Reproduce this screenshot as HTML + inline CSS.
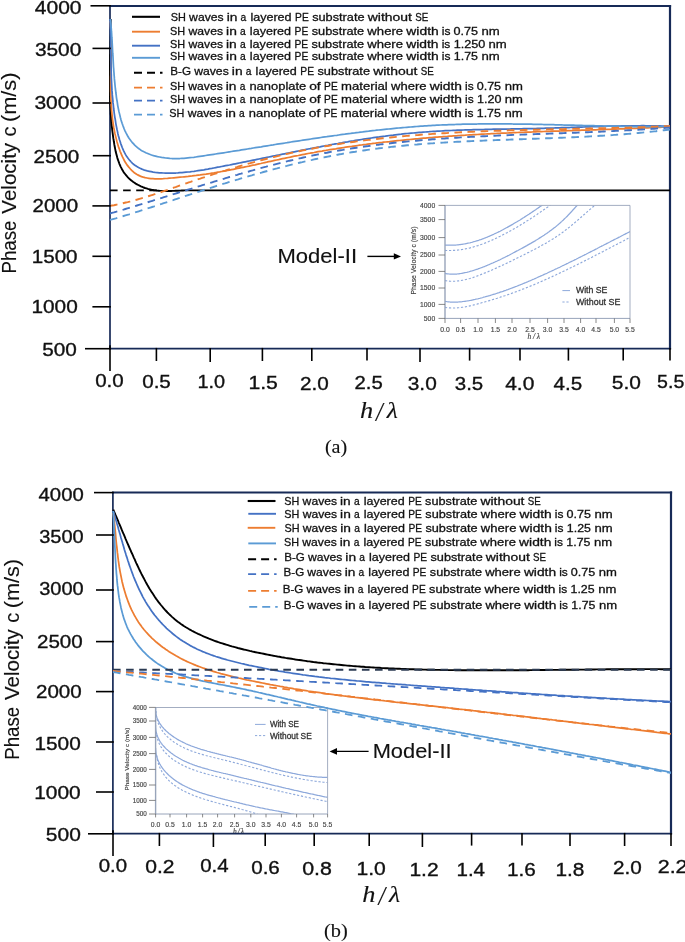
<!DOCTYPE html>
<html><head><meta charset="utf-8"><title>Phase velocity figure</title>
<style>html,body{margin:0;padding:0;background:#fff;}svg{display:block;}</style></head>
<body><svg width="685" height="942" viewBox="0 0 685 942">
<rect width="685" height="942" fill="#fff"/>
<line x1="110" y1="5.1" x2="110" y2="349.59999999999997" stroke="#172a57" stroke-width="1.7" />
<line x1="109.1" y1="6" x2="671.1" y2="6" stroke="#172a57" stroke-width="2.0" />
<line x1="670" y1="5" x2="670" y2="349.59999999999997" stroke="#172a57" stroke-width="2.2" />
<line x1="110" y1="348.7" x2="671.1" y2="348.7" stroke="#172a57" stroke-width="1.8" />
<clipPath id="ca"><rect x="109" y="6" width="561" height="342.7"/></clipPath>
<g clip-path="url(#ca)">
<path d="M110.7 19.0 L110.7 20.5 L110.7 22.1 L110.7 23.6 L110.7 25.2 L110.7 26.7 L110.7 28.2 L110.6 29.8 L110.6 31.3 L110.6 32.8 L110.6 34.4 L110.6 35.9 L110.5 37.4 L110.5 38.9 L110.5 40.4 L110.4 42.0 L110.4 43.5 L110.4 45.0 L110.3 46.5 L110.3 48.0 L110.3 49.5 L110.2 51.0 L110.2 52.5 L110.2 54.0 L110.1 55.5 L110.1 57.0 L110.1 58.5 L110.1 60.0 L110.0 61.5 L110.0 63.0 L110.0 64.5 L109.9 66.0 L109.9 67.5 L109.9 69.0 L109.9 70.5 L109.9 72.0 L109.8 73.5 L109.8 75.0 L109.8 76.4 L109.8 77.9 L109.8 79.4 L109.8 80.9 L109.8 82.4 L109.8 83.9 L109.8 85.4 L109.8 86.9 L109.8 88.4 L109.8 89.9 L109.9 91.4 L109.9 92.8 L109.9 94.3 L109.9 95.8 L110.0 97.3 L110.0 98.8 L110.1 100.3 L110.1 101.8 L110.2 103.3 L110.2 104.8 L110.3 106.3 L110.4 107.8 L110.5 109.3 L110.6 110.8 L110.7 112.3 L110.7 113.8 L110.9 115.4 L111.0 116.9 L111.1 118.4 L111.2 119.9 L111.3 121.4 L111.5 122.9 L111.6 124.5 L111.8 126.0 L112.0 127.5 L112.1 129.0 L112.3 130.6 L112.5 132.1 L112.7 133.6 L112.9 135.2 L113.1 136.7 L113.3 138.2 L113.6 139.8 L113.8 141.3 L114.1 142.9 L114.3 144.4 L114.6 146.0 L114.9 147.5 L115.2 149.1 L115.5 150.6 L115.8 152.1 L116.2 153.6 L116.6 155.1 L117.0 156.6 L117.4 158.1 L117.9 159.6 L118.4 161.0 L118.9 162.4 L119.4 163.8 L120.0 165.2 L120.6 166.6 L121.3 167.9 L122.0 169.2 L122.7 170.4 L123.4 171.7 L124.2 172.9 L125.1 174.0 L126.0 175.1 L126.9 176.2 L127.9 177.3 L128.9 178.3 L129.9 179.3 L131.0 180.2 L132.1 181.1 L133.3 182.0 L134.5 182.8 L135.7 183.6 L137.0 184.3 L138.3 185.0 L139.6 185.7 L140.9 186.3 L142.3 186.9 L143.6 187.5 L145.0 188.0 L146.5 188.4 L147.9 188.9 L149.4 189.3 L150.9 189.6 L152.4 189.9 L153.9 190.2 L155.4 190.4 L156.9 190.6 L158.5 190.7 L160.0 190.9 L161.6 190.9 L163.2 191.0 L164.7 191.0 L166.3 191.0 L167.9 191.0 L169.4 191.0 L171.0 191.0 L172.6 190.9 L174.1 190.9 L175.6 190.8 L177.2 190.7 L178.7 190.7 L180.2 190.6 L181.7 190.5 L183.1 190.5 L184.6 190.4 L186.0 190.4 L670 190.4" fill="none" stroke="#000" stroke-width="1.9" stroke-linejoin="round" />
<path d="M110.2 21.0 L110.4 23.0 L110.5 25.0 L110.6 27.0 L110.8 29.0 L110.9 31.0 L110.9 32.9 L111.0 34.9 L111.1 36.9 L111.1 38.9 L111.1 40.9 L111.2 42.9 L111.2 44.9 L111.2 46.9 L111.2 48.9 L111.2 50.9 L111.1 53.0 L111.1 55.0 L111.1 57.0 L111.1 59.0 L111.0 61.0 L111.0 63.0 L111.0 65.0 L110.9 67.0 L110.9 69.0 L110.8 71.0 L110.8 73.0 L110.8 75.1 L110.7 77.1 L110.7 79.1 L110.7 81.1 L110.7 83.1 L110.7 85.1 L110.7 87.1 L110.7 89.1 L110.7 91.2 L110.8 93.2 L110.8 95.2 L110.9 97.2 L110.9 99.2 L111.0 101.2 L111.1 103.2 L111.2 105.3 L111.4 107.3 L111.5 109.3 L111.7 111.3 L111.9 113.3 L112.1 115.3 L112.3 117.3 L112.5 119.3 L112.8 121.3 L113.1 123.3 L113.4 125.4 L113.7 127.4 L114.1 129.4 L114.5 131.4 L114.9 133.4 L115.4 135.4 L115.9 137.4 L116.4 139.4 L116.9 141.4 L117.5 143.4 L118.1 145.4 L118.7 147.4 L119.4 149.3 L120.1 151.3 L120.9 153.2 L121.7 155.1 L122.5 156.9 L123.4 158.7 L124.3 160.5 L125.3 162.2 L126.3 163.8 L127.4 165.4 L128.6 166.9 L129.8 168.3 L131.0 169.7 L132.3 171.0 L133.7 172.2 L135.1 173.3 L136.6 174.3 L138.2 175.1 L139.8 175.9 L141.5 176.6 L143.3 177.2 L145.1 177.7 L147.0 178.0 L148.9 178.3 L150.9 178.6 L152.9 178.7 L154.9 178.8 L157.0 178.8 L159.1 178.8 L161.2 178.8 L163.3 178.7 L165.4 178.5 L167.5 178.4 L169.6 178.2 L171.8 178.0 L173.8 177.8 L175.9 177.6 L178.0 177.4 L180.1 177.2 L182.1 177.0 L184.2 176.8 L186.2 176.6 L188.2 176.4 L190.2 176.1 L192.2 175.9 L194.2 175.6 L196.2 175.4 L198.2 175.1 L200.2 174.9 L202.1 174.6 L204.1 174.3 L206.0 174.1 L208.0 173.8 L210.0 173.5 L211.9 173.2 L213.9 172.9 L215.8 172.5 L217.8 172.2 L219.7 171.9 L221.7 171.5 L223.6 171.2 L225.6 170.8 L227.5 170.5 L229.5 170.1 L231.4 169.7 L233.4 169.3 L235.4 168.9 L237.3 168.5 L239.3 168.1 L241.2 167.7 L243.2 167.3 L245.1 166.9 L247.1 166.5 L249.1 166.1 L251.0 165.6 L253.0 165.2 L255.0 164.8 L256.9 164.3 L258.9 163.9 L260.8 163.5 L262.8 163.0 L264.8 162.6 L266.7 162.2 L268.7 161.7 L270.7 161.3 L272.6 160.9 L274.6 160.4 L276.6 160.0 L278.6 159.6 L280.5 159.1 L282.5 158.7 L284.5 158.3 L286.4 157.9 L288.4 157.5 L290.4 157.1 L292.3 156.6 L294.3 156.2 L296.3 155.8 L298.3 155.5 L300.2 155.1 L302.2 154.7 L304.2 154.3 L306.2 153.9 L308.1 153.5 L310.1 153.2 L312.1 152.8 L314.1 152.5 L316.0 152.1 L318.0 151.7 L320.0 151.4 L322.0 151.1 L324.0 150.7 L325.9 150.4 L327.9 150.0 L329.9 149.7 L331.9 149.4 L333.9 149.1 L335.8 148.8 L337.8 148.4 L339.8 148.1 L341.8 147.8 L343.8 147.5 L345.7 147.2 L347.7 146.9 L349.7 146.6 L351.7 146.4 L353.7 146.1 L355.7 145.8 L357.6 145.5 L359.6 145.2 L361.6 145.0 L363.6 144.7 L365.6 144.5 L367.6 144.2 L369.6 143.9 L371.6 143.7 L373.5 143.4 L375.5 143.2 L377.5 142.9 L379.5 142.7 L381.5 142.5 L383.5 142.2 L385.5 142.0 L387.5 141.8 L389.5 141.6 L391.5 141.3 L393.4 141.1 L395.4 140.9 L397.4 140.7 L399.4 140.5 L401.4 140.3 L403.4 140.1 L405.4 139.9 L407.4 139.7 L409.4 139.5 L411.4 139.3 L413.4 139.1 L415.4 138.9 L417.4 138.8 L419.4 138.6 L421.4 138.4 L423.4 138.2 L425.4 138.1 L427.4 137.9 L429.4 137.7 L431.4 137.6 L433.4 137.4 L435.4 137.2 L437.4 137.1 L439.4 136.9 L441.4 136.8 L443.4 136.6 L445.4 136.5 L447.4 136.4 L449.4 136.2 L451.4 136.1 L453.4 135.9 L455.4 135.8 L457.4 135.7 L459.4 135.5 L461.4 135.4 L463.4 135.3 L465.4 135.2 L467.4 135.0 L469.4 134.9 L471.4 134.8 L473.4 134.7 L475.4 134.6 L477.4 134.5 L479.4 134.3 L481.4 134.2 L483.4 134.1 L485.4 134.0 L487.4 133.9 L489.4 133.8 L491.4 133.7 L493.4 133.6 L495.4 133.5 L497.5 133.4 L499.5 133.3 L501.5 133.2 L503.5 133.1 L505.5 133.1 L507.5 133.0 L509.5 132.9 L511.5 132.8 L513.5 132.7 L515.5 132.6 L517.5 132.5 L519.5 132.4 L521.5 132.4 L523.5 132.3 L525.6 132.2 L527.6 132.1 L529.6 132.0 L531.6 132.0 L533.6 131.9 L535.6 131.8 L537.6 131.7 L539.6 131.7 L541.6 131.6 L543.6 131.5 L545.6 131.4 L547.6 131.4 L549.7 131.3 L551.7 131.2 L553.7 131.2 L555.7 131.1 L557.7 131.0 L559.7 131.0 L561.7 130.9 L563.7 130.8 L565.7 130.8 L567.7 130.7 L569.7 130.6 L571.7 130.6 L573.8 130.5 L575.8 130.4 L577.8 130.4 L579.8 130.3 L581.8 130.2 L583.8 130.2 L585.8 130.1 L587.8 130.0 L589.8 130.0 L591.8 129.9 L593.8 129.8 L595.8 129.8 L597.8 129.7 L599.9 129.6 L601.9 129.5 L603.9 129.5 L605.9 129.4 L607.9 129.3 L609.9 129.3 L611.9 129.2 L613.9 129.1 L615.9 129.1 L617.9 129.0 L619.9 128.9 L621.9 128.8 L623.9 128.8 L625.9 128.7 L627.9 128.6 L629.9 128.5 L632.0 128.5 L634.0 128.4 L636.0 128.3 L638.0 128.2 L640.0 128.1 L642.0 128.1 L644.0 128.0 L646.0 127.9 L648.0 127.8 L650.0 127.7 L652.0 127.6 L654.0 127.6 L656.0 127.5 L658.0 127.4 L660.0 127.3 L662.0 127.2 L664.0 127.1 L666.0 127.0 L668.0 126.9 L670.0 126.8" fill="none" stroke="#ED7D31" stroke-width="1.75" stroke-linejoin="round" />
<path d="M110.1 19.0 L110.2 21.1 L110.3 23.1 L110.3 25.2 L110.4 27.2 L110.4 29.2 L110.5 31.3 L110.5 33.3 L110.6 35.3 L110.6 37.3 L110.6 39.3 L110.7 41.3 L110.7 43.3 L110.7 45.3 L110.8 47.3 L110.8 49.3 L110.8 51.3 L110.8 53.3 L110.9 55.3 L110.9 57.3 L110.9 59.2 L110.9 61.2 L111.0 63.2 L111.0 65.2 L111.1 67.2 L111.1 69.1 L111.2 71.1 L111.2 73.1 L111.3 75.1 L111.3 77.0 L111.4 79.0 L111.5 81.0 L111.6 83.0 L111.7 84.9 L111.8 86.9 L111.9 88.9 L112.0 90.9 L112.2 92.9 L112.3 94.9 L112.5 96.9 L112.7 98.9 L112.9 100.9 L113.0 102.9 L113.3 104.9 L113.5 106.9 L113.7 109.0 L114.0 111.0 L114.2 113.0 L114.5 115.1 L114.8 117.1 L115.2 119.2 L115.5 121.2 L115.8 123.3 L116.2 125.4 L116.6 127.4 L117.0 129.5 L117.5 131.6 L117.9 133.7 L118.4 135.7 L119.0 137.7 L119.5 139.8 L120.2 141.7 L120.8 143.7 L121.5 145.6 L122.2 147.5 L123.0 149.3 L123.8 151.1 L124.7 152.9 L125.6 154.6 L126.6 156.2 L127.7 157.8 L128.8 159.3 L130.0 160.7 L131.2 162.0 L132.5 163.3 L133.9 164.5 L135.3 165.6 L136.9 166.6 L138.5 167.5 L140.1 168.3 L141.9 169.1 L143.6 169.8 L145.5 170.4 L147.3 170.9 L149.3 171.3 L151.2 171.7 L153.2 172.1 L155.2 172.4 L157.3 172.6 L159.3 172.8 L161.4 172.9 L163.5 173.0 L165.5 173.1 L167.6 173.1 L169.7 173.1 L171.8 173.1 L173.8 173.0 L175.9 173.0 L177.9 172.9 L179.9 172.7 L182.0 172.6 L184.0 172.4 L186.0 172.2 L188.0 172.0 L190.0 171.8 L192.0 171.5 L194.0 171.3 L196.0 171.0 L198.0 170.7 L200.0 170.4 L202.0 170.1 L203.9 169.8 L205.9 169.4 L207.9 169.1 L209.8 168.7 L211.8 168.4 L213.8 168.0 L215.8 167.6 L217.7 167.2 L219.7 166.9 L221.6 166.5 L223.6 166.1 L225.6 165.7 L227.5 165.3 L229.5 165.0 L231.5 164.6 L233.4 164.2 L235.4 163.8 L237.4 163.4 L239.3 163.0 L241.3 162.6 L243.3 162.2 L245.2 161.8 L247.2 161.4 L249.2 161.0 L251.1 160.6 L253.1 160.2 L255.1 159.8 L257.0 159.4 L259.0 159.0 L261.0 158.6 L262.9 158.2 L264.9 157.8 L266.9 157.4 L268.8 157.0 L270.8 156.6 L272.8 156.2 L274.7 155.8 L276.7 155.4 L278.7 155.0 L280.6 154.6 L282.6 154.2 L284.6 153.8 L286.5 153.4 L288.5 153.0 L290.5 152.6 L292.4 152.2 L294.4 151.8 L296.4 151.4 L298.3 151.0 L300.3 150.6 L302.3 150.2 L304.2 149.8 L306.2 149.4 L308.2 149.0 L310.1 148.7 L312.1 148.3 L314.1 147.9 L316.1 147.5 L318.0 147.1 L320.0 146.8 L322.0 146.4 L323.9 146.0 L325.9 145.6 L327.9 145.3 L329.9 144.9 L331.8 144.5 L333.8 144.2 L335.8 143.8 L337.8 143.5 L339.7 143.1 L341.7 142.8 L343.7 142.4 L345.7 142.1 L347.6 141.8 L349.6 141.4 L351.6 141.1 L353.6 140.8 L355.5 140.4 L357.5 140.1 L359.5 139.8 L361.5 139.5 L363.5 139.2 L365.4 138.9 L367.4 138.6 L369.4 138.3 L371.4 138.0 L373.4 137.7 L375.4 137.4 L377.3 137.1 L379.3 136.9 L381.3 136.6 L383.3 136.3 L385.3 136.1 L387.3 135.8 L389.3 135.5 L391.2 135.3 L393.2 135.1 L395.2 134.8 L397.2 134.6 L399.2 134.4 L401.2 134.2 L403.2 133.9 L405.2 133.7 L407.2 133.5 L409.2 133.3 L411.2 133.1 L413.2 133.0 L415.2 132.8 L417.2 132.6 L419.2 132.4 L421.2 132.3 L423.2 132.1 L425.2 132.0 L427.2 131.8 L429.2 131.7 L431.2 131.5 L433.2 131.4 L435.2 131.3 L437.2 131.2 L439.2 131.1 L441.2 131.0 L443.2 130.8 L445.2 130.7 L447.2 130.6 L449.2 130.6 L451.2 130.5 L453.2 130.4 L455.2 130.3 L457.2 130.2 L459.2 130.1 L461.3 130.1 L463.3 130.0 L465.3 129.9 L467.3 129.9 L469.3 129.8 L471.3 129.8 L473.3 129.7 L475.3 129.6 L477.3 129.6 L479.3 129.5 L481.4 129.5 L483.4 129.5 L485.4 129.4 L487.4 129.4 L489.4 129.3 L491.4 129.3 L493.4 129.2 L495.4 129.2 L497.4 129.2 L499.5 129.1 L501.5 129.1 L503.5 129.1 L505.5 129.0 L507.5 129.0 L509.5 129.0 L511.5 128.9 L513.5 128.9 L515.5 128.9 L517.6 128.8 L519.6 128.8 L521.6 128.8 L523.6 128.7 L525.6 128.7 L527.6 128.6 L529.6 128.6 L531.6 128.6 L533.6 128.5 L535.6 128.5 L537.6 128.4 L539.7 128.4 L541.7 128.3 L543.7 128.3 L545.7 128.2 L547.7 128.2 L549.7 128.1 L551.7 128.0 L553.7 128.0 L555.7 127.9 L557.7 127.9 L559.7 127.8 L561.7 127.7 L563.7 127.7 L565.7 127.6 L567.7 127.5 L569.7 127.5 L571.7 127.4 L573.7 127.3 L575.7 127.3 L577.7 127.2 L579.7 127.1 L581.7 127.1 L583.7 127.0 L585.7 126.9 L587.7 126.8 L589.7 126.8 L591.7 126.7 L593.7 126.7 L595.7 126.6 L597.7 126.5 L599.7 126.5 L601.7 126.4 L603.7 126.4 L605.7 126.3 L607.7 126.2 L609.8 126.2 L611.8 126.1 L613.8 126.1 L615.8 126.1 L617.8 126.0 L619.8 126.0 L621.8 125.9 L623.8 125.9 L625.8 125.9 L627.8 125.8 L629.8 125.8 L631.8 125.8 L633.8 125.8 L635.8 125.8 L637.8 125.8 L639.8 125.8 L641.8 125.7 L643.8 125.7 L645.8 125.8 L647.9 125.8 L649.9 125.8 L651.9 125.8 L653.9 125.8 L655.9 125.9 L657.9 125.9 L659.9 125.9 L661.9 126.0 L664.0 126.0 L666.0 126.1 L668.0 126.1 L670.0 126.2" fill="none" stroke="#4472C4" stroke-width="1.75" stroke-linejoin="round" />
<path d="M110.4 19.0 L110.6 21.0 L110.8 23.1 L111.0 25.1 L111.1 27.2 L111.3 29.2 L111.4 31.2 L111.6 33.2 L111.7 35.2 L111.8 37.2 L112.0 39.2 L112.1 41.2 L112.2 43.2 L112.3 45.2 L112.4 47.2 L112.5 49.2 L112.6 51.2 L112.7 53.2 L112.9 55.1 L113.0 57.1 L113.1 59.1 L113.2 61.1 L113.3 63.1 L113.4 65.0 L113.5 67.0 L113.7 69.0 L113.8 71.0 L114.0 73.0 L114.1 75.0 L114.3 77.0 L114.4 78.9 L114.6 80.9 L114.8 82.9 L115.0 85.0 L115.2 87.0 L115.4 89.0 L115.7 91.0 L115.9 93.0 L116.2 95.0 L116.4 97.1 L116.7 99.1 L117.1 101.2 L117.4 103.2 L117.7 105.3 L118.1 107.3 L118.5 109.4 L118.9 111.4 L119.4 113.4 L119.9 115.4 L120.4 117.5 L120.9 119.4 L121.5 121.4 L122.1 123.3 L122.8 125.3 L123.5 127.1 L124.2 129.0 L125.0 130.8 L125.9 132.6 L126.8 134.3 L127.7 136.0 L128.7 137.7 L129.8 139.3 L130.9 140.8 L132.1 142.3 L133.4 143.7 L134.7 145.1 L136.1 146.4 L137.5 147.6 L139.0 148.8 L140.6 149.9 L142.3 150.9 L144.0 151.8 L145.8 152.7 L147.7 153.5 L149.6 154.3 L151.5 155.0 L153.5 155.6 L155.5 156.1 L157.5 156.6 L159.5 157.0 L161.6 157.4 L163.6 157.7 L165.7 158.0 L167.7 158.2 L169.8 158.4 L171.8 158.5 L173.8 158.5 L175.8 158.6 L177.9 158.5 L179.9 158.5 L181.9 158.4 L183.9 158.3 L185.9 158.1 L187.9 157.9 L189.9 157.7 L191.9 157.5 L193.8 157.3 L195.8 157.0 L197.8 156.7 L199.8 156.4 L201.8 156.1 L203.8 155.8 L205.7 155.5 L207.7 155.2 L209.7 154.9 L211.7 154.6 L213.7 154.3 L215.6 154.0 L217.6 153.7 L219.6 153.4 L221.6 153.1 L223.6 152.8 L225.6 152.5 L227.5 152.2 L229.5 151.8 L231.5 151.5 L233.5 151.2 L235.5 150.9 L237.5 150.6 L239.4 150.3 L241.4 149.9 L243.4 149.6 L245.4 149.3 L247.4 149.0 L249.4 148.7 L251.3 148.4 L253.3 148.0 L255.3 147.7 L257.3 147.4 L259.3 147.1 L261.3 146.8 L263.2 146.4 L265.2 146.1 L267.2 145.8 L269.2 145.5 L271.2 145.2 L273.2 144.9 L275.2 144.5 L277.1 144.2 L279.1 143.9 L281.1 143.6 L283.1 143.3 L285.1 143.0 L287.1 142.7 L289.1 142.3 L291.0 142.0 L293.0 141.7 L295.0 141.4 L297.0 141.1 L299.0 140.8 L301.0 140.5 L303.0 140.2 L305.0 139.9 L306.9 139.6 L308.9 139.3 L310.9 139.0 L312.9 138.7 L314.9 138.4 L316.9 138.1 L318.9 137.8 L320.9 137.5 L322.9 137.2 L324.9 136.9 L326.8 136.7 L328.8 136.4 L330.8 136.1 L332.8 135.8 L334.8 135.5 L336.8 135.3 L338.8 135.0 L340.8 134.7 L342.8 134.4 L344.8 134.2 L346.8 133.9 L348.8 133.6 L350.7 133.4 L352.7 133.1 L354.7 132.9 L356.7 132.6 L358.7 132.4 L360.7 132.1 L362.7 131.9 L364.7 131.6 L366.7 131.4 L368.7 131.2 L370.7 130.9 L372.7 130.7 L374.7 130.5 L376.7 130.2 L378.7 130.0 L380.7 129.8 L382.7 129.6 L384.7 129.4 L386.7 129.2 L388.7 129.0 L390.7 128.8 L392.7 128.6 L394.7 128.4 L396.7 128.2 L398.7 128.0 L400.7 127.8 L402.7 127.6 L404.7 127.5 L406.7 127.3 L408.7 127.1 L410.7 127.0 L412.7 126.8 L414.7 126.6 L416.7 126.5 L418.7 126.3 L420.7 126.2 L422.7 126.1 L424.7 125.9 L426.7 125.8 L428.7 125.7 L430.7 125.6 L432.7 125.4 L434.7 125.3 L436.7 125.2 L438.7 125.1 L440.7 125.0 L442.7 124.9 L444.7 124.8 L446.8 124.8 L448.8 124.7 L450.8 124.6 L452.8 124.5 L454.8 124.5 L456.8 124.4 L458.8 124.3 L460.8 124.3 L462.8 124.2 L464.8 124.2 L466.8 124.1 L468.9 124.1 L470.9 124.1 L472.9 124.0 L474.9 124.0 L476.9 124.0 L478.9 123.9 L480.9 123.9 L482.9 123.9 L484.9 123.9 L487.0 123.9 L489.0 123.9 L491.0 123.9 L493.0 123.9 L495.0 123.9 L497.0 123.9 L499.0 123.9 L501.0 123.9 L503.1 123.9 L505.1 123.9 L507.1 123.9 L509.1 123.9 L511.1 123.9 L513.1 124.0 L515.1 124.0 L517.2 124.0 L519.2 124.0 L521.2 124.1 L523.2 124.1 L525.2 124.1 L527.2 124.2 L529.2 124.2 L531.3 124.2 L533.3 124.3 L535.3 124.3 L537.3 124.3 L539.3 124.4 L541.3 124.4 L543.3 124.5 L545.4 124.5 L547.4 124.6 L549.4 124.6 L551.4 124.7 L553.4 124.7 L555.4 124.8 L557.4 124.8 L559.5 124.9 L561.5 124.9 L563.5 125.0 L565.5 125.0 L567.5 125.1 L569.5 125.1 L571.5 125.2 L573.6 125.2 L575.6 125.3 L577.6 125.3 L579.6 125.4 L581.6 125.4 L583.6 125.5 L585.6 125.5 L587.7 125.6 L589.7 125.6 L591.7 125.7 L593.7 125.7 L595.7 125.8 L597.7 125.8 L599.7 125.9 L601.7 125.9 L603.8 126.0 L605.8 126.0 L607.8 126.0 L609.8 126.1 L611.8 126.1 L613.8 126.2 L615.8 126.2 L617.8 126.2 L619.8 126.3 L621.8 126.3 L623.9 126.3 L625.9 126.4 L627.9 126.4 L629.9 126.4 L631.9 126.5 L633.9 126.5 L635.9 126.5 L637.9 126.5 L639.9 126.5 L641.9 126.6 L643.9 126.6 L645.9 126.6 L648.0 126.6 L650.0 126.6 L652.0 126.6 L654.0 126.6 L656.0 126.6 L658.0 126.6 L660.0 126.6 L662.0 126.6 L664.0 126.6 L666.0 126.5 L668.0 126.5 L670.0 126.5" fill="none" stroke="#5B9BD5" stroke-width="1.75" stroke-linejoin="round" />
<line x1="110" y1="190.3" x2="158" y2="190.3" stroke="#000" stroke-width="1.8" stroke-dasharray="7.6 5.5"/>
<path d="M110.0 205.9 L112.0 205.5 L114.0 205.2 L116.0 204.8 L117.9 204.3 L119.9 203.9 L121.9 203.5 L123.8 203.0 L125.8 202.5 L127.7 202.1 L129.7 201.6 L131.6 201.0 L133.6 200.5 L135.5 200.0 L137.4 199.5 L139.4 198.9 L141.3 198.3 L143.2 197.8 L145.1 197.2 L147.0 196.6 L149.0 196.0 L150.9 195.4 L152.8 194.8 L154.7 194.2 L156.6 193.5 L158.5 192.9 L160.4 192.3 L162.3 191.6 L164.2 191.0 L166.1 190.3 L168.0 189.7 L169.9 189.0 L171.8 188.4 L173.7 187.7 L175.6 187.1 L177.5 186.4 L179.4 185.7 L181.3 185.1 L183.2 184.4 L185.1 183.8 L186.9 183.1 L188.8 182.4 L190.7 181.8 L192.7 181.1 L194.6 180.5 L196.5 179.8 L198.4 179.2 L200.3 178.6 L202.2 177.9 L204.1 177.3 L206.0 176.7 L207.9 176.0 L209.8 175.4 L211.7 174.8 L213.7 174.2 L215.6 173.6 L217.5 173.0 L219.4 172.3 L221.3 171.7 L223.3 171.1 L225.2 170.6 L227.1 170.0 L229.0 169.4 L231.0 168.8 L232.9 168.2 L234.8 167.6 L236.8 167.1 L238.7 166.5 L240.6 165.9 L242.6 165.4 L244.5 164.8 L246.4 164.3 L248.4 163.7 L250.3 163.2 L252.3 162.6 L254.2 162.1 L256.2 161.6 L258.1 161.0 L260.0 160.5 L262.0 160.0 L263.9 159.5 L265.9 159.0 L267.8 158.5 L269.8 158.0 L271.7 157.5 L273.7 157.0 L275.6 156.6 L277.6 156.1 L279.6 155.6 L281.5 155.1 L283.5 154.7 L285.4 154.2 L287.4 153.8 L289.4 153.3 L291.3 152.9 L293.3 152.5 L295.2 152.1 L297.2 151.6 L299.2 151.2 L301.1 150.8 L303.1 150.4 L305.1 150.0 L307.0 149.6 L309.0 149.2 L311.0 148.9 L313.0 148.5 L314.9 148.1 L316.9 147.7 L318.9 147.4 L320.9 147.0 L322.8 146.7 L324.8 146.3 L326.8 146.0 L328.8 145.7 L330.7 145.3 L332.7 145.0 L334.7 144.7 L336.7 144.4 L338.7 144.0 L340.7 143.7 L342.6 143.4 L344.6 143.1 L346.6 142.8 L348.6 142.6 L350.6 142.3 L352.6 142.0 L354.6 141.7 L356.5 141.4 L358.5 141.2 L360.5 140.9 L362.5 140.7 L364.5 140.4 L366.5 140.1 L368.5 139.9 L370.5 139.7 L372.5 139.4 L374.5 139.2 L376.5 139.0 L378.5 138.7 L380.5 138.5 L382.5 138.3 L384.5 138.1 L386.4 137.9 L388.4 137.7 L390.4 137.5 L392.4 137.3 L394.4 137.1 L396.4 136.9 L398.4 136.7 L400.4 136.5 L402.5 136.3 L404.5 136.1 L406.5 135.9 L408.5 135.8 L410.5 135.6 L412.5 135.4 L414.5 135.3 L416.5 135.1 L418.5 135.0 L420.5 134.8 L422.5 134.6 L424.5 134.5 L426.5 134.4 L428.5 134.2 L430.5 134.1 L432.5 133.9 L434.5 133.8 L436.6 133.7 L438.6 133.5 L440.6 133.4 L442.6 133.3 L444.6 133.2 L446.6 133.1 L448.6 132.9 L450.6 132.8 L452.6 132.7 L454.7 132.6 L456.7 132.5 L458.7 132.4 L460.7 132.3 L462.7 132.2 L464.7 132.1 L466.7 132.0 L468.8 131.9 L470.8 131.8 L472.8 131.7 L474.8 131.6 L476.8 131.5 L478.8 131.5 L480.8 131.4 L482.9 131.3 L484.9 131.2 L486.9 131.1 L488.9 131.1 L490.9 131.0 L492.9 130.9 L495.0 130.9 L497.0 130.8 L499.0 130.7 L501.0 130.7 L503.0 130.6 L505.0 130.5 L507.1 130.5 L509.1 130.4 L511.1 130.3 L513.1 130.3 L515.1 130.2 L517.1 130.2 L519.2 130.1 L521.2 130.1 L523.2 130.0 L525.2 130.0 L527.2 129.9 L529.2 129.9 L531.3 129.8 L533.3 129.8 L535.3 129.7 L537.3 129.7 L539.3 129.6 L541.4 129.6 L543.4 129.5 L545.4 129.5 L547.4 129.4 L549.4 129.4 L551.4 129.3 L553.5 129.3 L555.5 129.3 L557.5 129.2 L559.5 129.2 L561.5 129.1 L563.5 129.1 L565.6 129.0 L567.6 129.0 L569.6 129.0 L571.6 128.9 L573.6 128.9 L575.6 128.8 L577.7 128.8 L579.7 128.7 L581.7 128.7 L583.7 128.7 L585.7 128.6 L587.7 128.6 L589.7 128.5 L591.8 128.5 L593.8 128.4 L595.8 128.4 L597.8 128.3 L599.8 128.3 L601.8 128.3 L603.8 128.2 L605.8 128.2 L607.8 128.1 L609.9 128.1 L611.9 128.0 L613.9 128.0 L615.9 127.9 L617.9 127.8 L619.9 127.8 L621.9 127.7 L623.9 127.7 L625.9 127.6 L627.9 127.6 L629.9 127.5 L632.0 127.4 L634.0 127.4 L636.0 127.3 L638.0 127.3 L640.0 127.2 L642.0 127.1 L644.0 127.1 L646.0 127.0 L648.0 126.9 L650.0 126.8 L652.0 126.8 L654.0 126.7 L656.0 126.6 L658.0 126.5 L660.0 126.4 L662.0 126.4 L664.0 126.3 L666.0 126.2 L668.0 126.1 L670.0 126.0" fill="none" stroke="#ED7D31" stroke-width="1.9" stroke-dasharray="7.6 5.5" stroke-linejoin="round" />
<path d="M110.0 213.5 L111.9 212.9 L113.9 212.4 L115.8 211.8 L117.7 211.3 L119.6 210.7 L121.6 210.1 L123.5 209.6 L125.4 209.0 L127.3 208.4 L129.3 207.8 L131.2 207.2 L133.1 206.7 L135.0 206.1 L137.0 205.5 L138.9 204.9 L140.8 204.3 L142.7 203.7 L144.7 203.1 L146.6 202.6 L148.5 202.0 L150.4 201.4 L152.4 200.8 L154.3 200.2 L156.2 199.6 L158.1 199.0 L160.1 198.4 L162.0 197.8 L163.9 197.2 L165.8 196.6 L167.8 196.0 L169.7 195.4 L171.6 194.8 L173.5 194.2 L175.5 193.6 L177.4 193.0 L179.3 192.4 L181.2 191.8 L183.2 191.2 L185.1 190.6 L187.0 190.0 L188.9 189.4 L190.9 188.8 L192.8 188.2 L194.7 187.6 L196.6 187.0 L198.6 186.4 L200.5 185.8 L202.4 185.2 L204.4 184.6 L206.3 184.0 L208.2 183.4 L210.1 182.9 L212.1 182.3 L214.0 181.7 L215.9 181.1 L217.9 180.5 L219.8 179.9 L221.7 179.3 L223.7 178.8 L225.6 178.2 L227.5 177.6 L229.4 177.0 L231.4 176.5 L233.3 175.9 L235.2 175.3 L237.2 174.8 L239.1 174.2 L241.1 173.7 L243.0 173.1 L244.9 172.6 L246.9 172.0 L248.8 171.5 L250.7 170.9 L252.7 170.4 L254.6 169.8 L256.6 169.3 L258.5 168.8 L260.4 168.2 L262.4 167.7 L264.3 167.2 L266.3 166.7 L268.2 166.1 L270.2 165.6 L272.1 165.1 L274.1 164.6 L276.0 164.1 L277.9 163.6 L279.9 163.1 L281.8 162.6 L283.8 162.1 L285.7 161.7 L287.7 161.2 L289.6 160.7 L291.6 160.3 L293.6 159.8 L295.5 159.3 L297.5 158.9 L299.4 158.4 L301.4 158.0 L303.3 157.5 L305.3 157.1 L307.3 156.7 L309.2 156.3 L311.2 155.8 L313.1 155.4 L315.1 155.0 L317.1 154.6 L319.0 154.2 L321.0 153.8 L323.0 153.4 L324.9 153.0 L326.9 152.7 L328.9 152.3 L330.9 151.9 L332.8 151.6 L334.8 151.2 L336.8 150.9 L338.8 150.5 L340.7 150.2 L342.7 149.9 L344.7 149.5 L346.7 149.2 L348.7 148.9 L350.6 148.6 L352.6 148.3 L354.6 148.0 L356.6 147.7 L358.6 147.4 L360.6 147.1 L362.5 146.8 L364.5 146.5 L366.5 146.2 L368.5 146.0 L370.5 145.7 L372.5 145.4 L374.5 145.2 L376.5 144.9 L378.5 144.7 L380.4 144.4 L382.4 144.2 L384.4 144.0 L386.4 143.7 L388.4 143.5 L390.4 143.3 L392.4 143.0 L394.4 142.8 L396.4 142.6 L398.4 142.4 L400.4 142.2 L402.4 142.0 L404.4 141.8 L406.4 141.6 L408.4 141.4 L410.4 141.2 L412.4 141.0 L414.4 140.8 L416.4 140.7 L418.4 140.5 L420.5 140.3 L422.5 140.1 L424.5 140.0 L426.5 139.8 L428.5 139.7 L430.5 139.5 L432.5 139.3 L434.5 139.2 L436.5 139.0 L438.5 138.9 L440.5 138.7 L442.5 138.6 L444.6 138.5 L446.6 138.3 L448.6 138.2 L450.6 138.1 L452.6 137.9 L454.6 137.8 L456.6 137.7 L458.6 137.6 L460.7 137.4 L462.7 137.3 L464.7 137.2 L466.7 137.1 L468.7 137.0 L470.7 136.9 L472.8 136.8 L474.8 136.7 L476.8 136.6 L478.8 136.5 L480.8 136.4 L482.8 136.3 L484.9 136.2 L486.9 136.1 L488.9 136.0 L490.9 135.9 L492.9 135.8 L494.9 135.7 L497.0 135.6 L499.0 135.5 L501.0 135.4 L503.0 135.4 L505.0 135.3 L507.1 135.2 L509.1 135.1 L511.1 135.0 L513.1 134.9 L515.1 134.9 L517.1 134.8 L519.2 134.7 L521.2 134.6 L523.2 134.6 L525.2 134.5 L527.2 134.4 L529.3 134.3 L531.3 134.3 L533.3 134.2 L535.3 134.1 L537.3 134.0 L539.4 134.0 L541.4 133.9 L543.4 133.8 L545.4 133.8 L547.4 133.7 L549.5 133.6 L551.5 133.5 L553.5 133.5 L555.5 133.4 L557.5 133.3 L559.5 133.2 L561.6 133.2 L563.6 133.1 L565.6 133.0 L567.6 133.0 L569.6 132.9 L571.7 132.8 L573.7 132.7 L575.7 132.7 L577.7 132.6 L579.7 132.5 L581.7 132.4 L583.7 132.3 L585.8 132.3 L587.8 132.2 L589.8 132.1 L591.8 132.0 L593.8 131.9 L595.8 131.9 L597.8 131.8 L599.9 131.7 L601.9 131.6 L603.9 131.5 L605.9 131.4 L607.9 131.3 L609.9 131.2 L611.9 131.1 L613.9 131.0 L615.9 130.9 L618.0 130.8 L620.0 130.7 L622.0 130.6 L624.0 130.5 L626.0 130.4 L628.0 130.3 L630.0 130.2 L632.0 130.1 L634.0 130.0 L636.0 129.9 L638.0 129.7 L640.0 129.6 L642.0 129.5 L644.0 129.4 L646.0 129.2 L648.0 129.1 L650.0 129.0 L652.0 128.8 L654.0 128.7 L656.0 128.6 L658.0 128.4 L660.0 128.3 L662.0 128.1 L664.0 128.0 L666.0 127.8 L668.0 127.7 L670.0 127.5" fill="none" stroke="#4472C4" stroke-width="1.9" stroke-dasharray="7.6 5.5" stroke-linejoin="round" />
<path d="M110.0 219.9 L111.9 219.4 L113.9 218.8 L115.8 218.3 L117.7 217.7 L119.6 217.1 L121.6 216.6 L123.5 216.0 L125.4 215.4 L127.3 214.8 L129.2 214.3 L131.2 213.7 L133.1 213.1 L135.0 212.5 L136.9 211.9 L138.8 211.3 L140.7 210.7 L142.6 210.1 L144.6 209.5 L146.5 208.8 L148.4 208.2 L150.3 207.6 L152.2 207.0 L154.1 206.4 L156.0 205.7 L157.9 205.1 L159.8 204.5 L161.7 203.9 L163.7 203.2 L165.6 202.6 L167.5 202.0 L169.4 201.3 L171.3 200.7 L173.2 200.1 L175.1 199.4 L177.0 198.8 L178.9 198.2 L180.8 197.5 L182.7 196.9 L184.6 196.3 L186.5 195.6 L188.5 195.0 L190.4 194.4 L192.3 193.7 L194.2 193.1 L196.1 192.5 L198.0 191.9 L199.9 191.3 L201.8 190.6 L203.8 190.0 L205.7 189.4 L207.6 188.8 L209.5 188.2 L211.4 187.6 L213.3 187.0 L215.3 186.3 L217.2 185.7 L219.1 185.1 L221.0 184.5 L222.9 183.9 L224.9 183.4 L226.8 182.8 L228.7 182.2 L230.6 181.6 L232.6 181.0 L234.5 180.4 L236.4 179.8 L238.3 179.3 L240.3 178.7 L242.2 178.1 L244.1 177.5 L246.1 177.0 L248.0 176.4 L249.9 175.8 L251.8 175.3 L253.8 174.7 L255.7 174.2 L257.6 173.6 L259.6 173.1 L261.5 172.6 L263.5 172.0 L265.4 171.5 L267.3 171.0 L269.3 170.4 L271.2 169.9 L273.1 169.4 L275.1 168.9 L277.0 168.4 L279.0 167.8 L280.9 167.3 L282.9 166.8 L284.8 166.3 L286.7 165.9 L288.7 165.4 L290.6 164.9 L292.6 164.4 L294.5 163.9 L296.5 163.5 L298.4 163.0 L300.4 162.5 L302.3 162.1 L304.3 161.6 L306.2 161.2 L308.2 160.7 L310.2 160.3 L312.1 159.9 L314.1 159.4 L316.0 159.0 L318.0 158.6 L320.0 158.2 L321.9 157.8 L323.9 157.4 L325.8 157.0 L327.8 156.6 L329.8 156.2 L331.7 155.8 L333.7 155.4 L335.7 155.1 L337.6 154.7 L339.6 154.3 L341.6 154.0 L343.5 153.6 L345.5 153.3 L347.5 152.9 L349.5 152.6 L351.4 152.3 L353.4 152.0 L355.4 151.7 L357.4 151.3 L359.3 151.0 L361.3 150.8 L363.3 150.5 L365.3 150.2 L367.3 149.9 L369.3 149.6 L371.2 149.4 L373.2 149.1 L375.2 148.8 L377.2 148.6 L379.2 148.3 L381.2 148.1 L383.2 147.8 L385.2 147.6 L387.1 147.4 L389.1 147.2 L391.1 146.9 L393.1 146.7 L395.1 146.5 L397.1 146.3 L399.1 146.1 L401.1 145.9 L403.1 145.7 L405.1 145.5 L407.1 145.3 L409.1 145.2 L411.1 145.0 L413.1 144.8 L415.1 144.6 L417.1 144.5 L419.1 144.3 L421.1 144.1 L423.1 144.0 L425.1 143.8 L427.1 143.7 L429.1 143.5 L431.1 143.4 L433.1 143.3 L435.1 143.1 L437.1 143.0 L439.1 142.9 L441.1 142.7 L443.1 142.6 L445.2 142.5 L447.2 142.4 L449.2 142.2 L451.2 142.1 L453.2 142.0 L455.2 141.9 L457.2 141.8 L459.2 141.7 L461.2 141.6 L463.2 141.5 L465.3 141.4 L467.3 141.3 L469.3 141.2 L471.3 141.1 L473.3 141.0 L475.3 140.9 L477.3 140.9 L479.3 140.8 L481.4 140.7 L483.4 140.6 L485.4 140.5 L487.4 140.4 L489.4 140.4 L491.4 140.3 L493.4 140.2 L495.5 140.1 L497.5 140.0 L499.5 140.0 L501.5 139.9 L503.5 139.8 L505.5 139.8 L507.6 139.7 L509.6 139.6 L511.6 139.5 L513.6 139.5 L515.6 139.4 L517.6 139.3 L519.6 139.3 L521.7 139.2 L523.7 139.1 L525.7 139.1 L527.7 139.0 L529.7 138.9 L531.7 138.8 L533.8 138.8 L535.8 138.7 L537.8 138.6 L539.8 138.6 L541.8 138.5 L543.8 138.4 L545.8 138.3 L547.9 138.3 L549.9 138.2 L551.9 138.1 L553.9 138.0 L555.9 138.0 L557.9 137.9 L559.9 137.8 L562.0 137.7 L564.0 137.6 L566.0 137.6 L568.0 137.5 L570.0 137.4 L572.0 137.3 L574.0 137.2 L576.0 137.1 L578.1 137.0 L580.1 136.9 L582.1 136.8 L584.1 136.7 L586.1 136.6 L588.1 136.5 L590.1 136.4 L592.1 136.3 L594.1 136.2 L596.1 136.1 L598.1 136.0 L600.1 135.8 L602.2 135.7 L604.2 135.6 L606.2 135.5 L608.2 135.3 L610.2 135.2 L612.2 135.1 L614.2 134.9 L616.2 134.8 L618.2 134.6 L620.2 134.5 L622.2 134.3 L624.2 134.2 L626.2 134.0 L628.2 133.9 L630.2 133.7 L632.2 133.5 L634.2 133.4 L636.2 133.2 L638.2 133.0 L640.2 132.8 L642.2 132.6 L644.2 132.4 L646.1 132.2 L648.1 132.0 L650.1 131.8 L652.1 131.6 L654.1 131.4 L656.1 131.2 L658.1 130.9 L660.1 130.7 L662.1 130.5 L664.0 130.2 L666.0 130.0 L668.0 129.8 L670.0 129.5" fill="none" stroke="#5B9BD5" stroke-width="1.9" stroke-dasharray="7.6 5.5" stroke-linejoin="round" />
</g>
<line x1="90.5" y1="5.8" x2="110.9" y2="5.8" stroke="#000" stroke-width="1.6" />
<text x="34.88" y="14.00" font-family='"Liberation Sans", sans-serif' font-size="18.8" text-anchor="start" fill="#111" textLength="46.65" lengthAdjust="spacingAndGlyphs"  stroke="#111" stroke-width="0.35">4000</text>
<line x1="92.5" y1="48.4" x2="110.9" y2="48.4" stroke="#000" stroke-width="1.6" />
<text x="34.92" y="55.60" font-family='"Liberation Sans", sans-serif' font-size="18.8" text-anchor="start" fill="#111" textLength="46.41" lengthAdjust="spacingAndGlyphs"  stroke="#111" stroke-width="0.35">3500</text>
<line x1="92.5" y1="103" x2="110.9" y2="103" stroke="#000" stroke-width="1.6" />
<text x="34.46" y="108.90" font-family='"Liberation Sans", sans-serif' font-size="18.8" text-anchor="start" fill="#111" textLength="46.67" lengthAdjust="spacingAndGlyphs"  stroke="#111" stroke-width="0.35">3000</text>
<line x1="92.8" y1="155.7" x2="110.9" y2="155.7" stroke="#000" stroke-width="1.6" />
<text x="33.57" y="163.00" font-family='"Liberation Sans", sans-serif' font-size="18.8" text-anchor="start" fill="#111" textLength="45.74" lengthAdjust="spacingAndGlyphs"  stroke="#111" stroke-width="0.35">2500</text>
<line x1="92.4" y1="205.9" x2="110.9" y2="205.9" stroke="#000" stroke-width="1.6" />
<text x="32.58" y="212.10" font-family='"Liberation Sans", sans-serif' font-size="18.8" text-anchor="start" fill="#111" textLength="45.53" lengthAdjust="spacingAndGlyphs"  stroke="#111" stroke-width="0.35">2000</text>
<line x1="92.4" y1="256.3" x2="110.9" y2="256.3" stroke="#000" stroke-width="1.6" />
<text x="31.76" y="263.40" font-family='"Liberation Sans", sans-serif' font-size="18.8" text-anchor="start" fill="#111" textLength="45.76" lengthAdjust="spacingAndGlyphs"  stroke="#111" stroke-width="0.35">1500</text>
<line x1="92.4" y1="306.8" x2="110.9" y2="306.8" stroke="#000" stroke-width="1.6" />
<text x="31.44" y="313.00" font-family='"Liberation Sans", sans-serif' font-size="18.8" text-anchor="start" fill="#111" textLength="46.28" lengthAdjust="spacingAndGlyphs"  stroke="#111" stroke-width="0.35">1000</text>
<line x1="85" y1="348.7" x2="110.9" y2="348.7" stroke="#000" stroke-width="1.6" />
<text x="42.17" y="355.60" font-family='"Liberation Sans", sans-serif' font-size="18.8" text-anchor="start" fill="#111" textLength="34.63" lengthAdjust="spacingAndGlyphs"  stroke="#111" stroke-width="0.35">500</text>
<line x1="110" y1="345.2" x2="110" y2="371" stroke="#000" stroke-width="1.6" />
<text x="95.18" y="387.00" font-family='"Liberation Sans", sans-serif' font-size="18.8" text-anchor="start" fill="#111" textLength="28.54" lengthAdjust="spacingAndGlyphs"  stroke="#111" stroke-width="0.35">0.0</text>
<line x1="156.4" y1="347.9" x2="156.4" y2="361" stroke="#000" stroke-width="1.6" />
<text x="142.18" y="388.00" font-family='"Liberation Sans", sans-serif' font-size="18.8" text-anchor="start" fill="#111" textLength="28.65" lengthAdjust="spacingAndGlyphs"  stroke="#111" stroke-width="0.35">0.5</text>
<line x1="210.2" y1="347.9" x2="210.2" y2="362" stroke="#000" stroke-width="1.6" />
<text x="197.51" y="388.00" font-family='"Liberation Sans", sans-serif' font-size="18.8" text-anchor="start" fill="#111" textLength="27.59" lengthAdjust="spacingAndGlyphs"  stroke="#111" stroke-width="0.35">1.0</text>
<line x1="262.4" y1="347.9" x2="262.4" y2="361" stroke="#000" stroke-width="1.6" />
<text x="248.41" y="388.60" font-family='"Liberation Sans", sans-serif' font-size="18.8" text-anchor="start" fill="#111" textLength="29.44" lengthAdjust="spacingAndGlyphs"  stroke="#111" stroke-width="0.35">1.5</text>
<line x1="311.8" y1="347.9" x2="311.8" y2="361" stroke="#000" stroke-width="1.6" />
<text x="299.97" y="389.60" font-family='"Liberation Sans", sans-serif' font-size="18.8" text-anchor="start" fill="#111" textLength="28.76" lengthAdjust="spacingAndGlyphs"  stroke="#111" stroke-width="0.35">2.0</text>
<line x1="367" y1="347.9" x2="367" y2="360.6" stroke="#000" stroke-width="1.6" />
<text x="354.58" y="389.40" font-family='"Liberation Sans", sans-serif' font-size="18.8" text-anchor="start" fill="#111" textLength="28.23" lengthAdjust="spacingAndGlyphs"  stroke="#111" stroke-width="0.35">2.5</text>
<line x1="420" y1="347.9" x2="420" y2="362" stroke="#000" stroke-width="1.6" />
<text x="407.77" y="390.00" font-family='"Liberation Sans", sans-serif' font-size="18.8" text-anchor="start" fill="#111" textLength="28.97" lengthAdjust="spacingAndGlyphs"  stroke="#111" stroke-width="0.35">3.0</text>
<line x1="469.6" y1="347.9" x2="469.6" y2="360.6" stroke="#000" stroke-width="1.6" />
<text x="454.78" y="390.00" font-family='"Liberation Sans", sans-serif' font-size="18.8" text-anchor="start" fill="#111" textLength="28.44" lengthAdjust="spacingAndGlyphs"  stroke="#111" stroke-width="0.35">3.5</text>
<line x1="520" y1="347.9" x2="520" y2="360.6" stroke="#000" stroke-width="1.6" />
<text x="505.18" y="390.00" font-family='"Liberation Sans", sans-serif' font-size="18.8" text-anchor="start" fill="#111" textLength="29.16" lengthAdjust="spacingAndGlyphs"  stroke="#111" stroke-width="0.35">4.0</text>
<line x1="568.4" y1="347.9" x2="568.4" y2="360.6" stroke="#000" stroke-width="1.6" />
<text x="553.59" y="390.00" font-family='"Liberation Sans", sans-serif' font-size="18.8" text-anchor="start" fill="#111" textLength="28.64" lengthAdjust="spacingAndGlyphs"  stroke="#111" stroke-width="0.35">4.5</text>
<line x1="623.2" y1="347.9" x2="623.2" y2="360.6" stroke="#000" stroke-width="1.6" />
<text x="611.86" y="389.00" font-family='"Liberation Sans", sans-serif' font-size="18.8" text-anchor="start" fill="#111" textLength="29.07" lengthAdjust="spacingAndGlyphs"  stroke="#111" stroke-width="0.35">5.0</text>
<line x1="670" y1="347.9" x2="670" y2="360.6" stroke="#000" stroke-width="1.6" />
<text x="657.12" y="388.30" font-family='"Liberation Sans", sans-serif' font-size="18.8" text-anchor="start" fill="#111" textLength="27.17" lengthAdjust="spacingAndGlyphs"  stroke="#111" stroke-width="0.35">5.5</text>
<text transform="translate(15.90,0) rotate(-90)" y="0" font-family='"Liberation Sans", sans-serif' font-size="19.7" fill="#111" stroke="#111" stroke-width="0.12"><tspan x="-273.49" textLength="52.94" lengthAdjust="spacingAndGlyphs">Phase</tspan> <tspan x="-213.70" textLength="70.83" lengthAdjust="spacingAndGlyphs">Velocity</tspan> <tspan x="-136.40" textLength="10.00" lengthAdjust="spacingAndGlyphs">c</tspan> <tspan x="-122.00" textLength="49.45" lengthAdjust="spacingAndGlyphs">(m/s)</tspan></text>
<text x="360.08" y="417.60" font-family='"Liberation Serif", serif' font-size="23" font-style="italic" text-anchor="start" fill="#111" textLength="13.18" lengthAdjust="spacingAndGlyphs"  stroke="#111" stroke-width="0.12">h</text>
<text x="376.08" y="420.60" font-family='"Liberation Serif", serif' font-size="27.5" font-style="italic" text-anchor="start" fill="#111" textLength="6.67" lengthAdjust="spacingAndGlyphs"  stroke="#111" stroke-width="0.12">/</text>
<text x="386.84" y="417.60" font-family='"Liberation Serif", serif' font-size="23" font-style="italic" text-anchor="start" fill="#111" textLength="11.15" lengthAdjust="spacingAndGlyphs"  stroke="#111" stroke-width="0.12">λ</text>
<text x="324.90" y="453.00" font-family='"Liberation Serif", serif' font-size="19.5" text-anchor="start" fill="#111" textLength="22.31" lengthAdjust="spacingAndGlyphs"  stroke="#111" stroke-width="0.12">(a)</text>
<text x="277.44" y="263.40" font-family='"Liberation Sans", sans-serif' font-size="19.5" text-anchor="start" fill="#111" textLength="79.60" lengthAdjust="spacingAndGlyphs"  stroke="#111" stroke-width="0.12">Model-II</text>
<line x1="367.4" y1="256.4" x2="396" y2="256.4" stroke="#000" stroke-width="1.4" />
<path d="M401 256.4 L393.8 253.2 L393.8 259.6 Z" fill="#000"/>
<line x1="132" y1="16.8" x2="160" y2="16.8" stroke="#000" stroke-width="2.1" />
<text y="21.40" font-family='"Liberation Sans", sans-serif' font-size="11.4" fill="#111" stroke="#111" stroke-width="0.3"><tspan x="170.71" textLength="15.10" lengthAdjust="spacingAndGlyphs">SH</tspan> <tspan x="189.11" textLength="34.55" lengthAdjust="spacingAndGlyphs">waves</tspan> <tspan x="226.70" textLength="10.74" lengthAdjust="spacingAndGlyphs">in</tspan> <tspan x="240.61" textLength="5.71" lengthAdjust="spacingAndGlyphs">a</tspan> <tspan x="250.42" textLength="41.18" lengthAdjust="spacingAndGlyphs">layered</tspan> <tspan x="295.09" textLength="13.64" lengthAdjust="spacingAndGlyphs">PE</tspan> <tspan x="312.15" textLength="52.44" lengthAdjust="spacingAndGlyphs">substrate</tspan> <tspan x="367.76" textLength="44.12" lengthAdjust="spacingAndGlyphs">without</tspan> <tspan x="415.13" textLength="13.03" lengthAdjust="spacingAndGlyphs">SE</tspan></text>
<line x1="132" y1="31.7" x2="160" y2="31.7" stroke="#ED7D31" stroke-width="1.9" />
<text y="34.60" font-family='"Liberation Sans", sans-serif' font-size="11.4" fill="#111" stroke="#111" stroke-width="0.3"><tspan x="170.01" textLength="15.12" lengthAdjust="spacingAndGlyphs">SH</tspan> <tspan x="188.44" textLength="34.61" lengthAdjust="spacingAndGlyphs">waves</tspan> <tspan x="226.09" textLength="10.75" lengthAdjust="spacingAndGlyphs">in</tspan> <tspan x="240.03" textLength="5.71" lengthAdjust="spacingAndGlyphs">a</tspan> <tspan x="249.86" textLength="41.25" lengthAdjust="spacingAndGlyphs">layered</tspan> <tspan x="294.59" textLength="13.66" lengthAdjust="spacingAndGlyphs">PE</tspan> <tspan x="311.68" textLength="52.52" lengthAdjust="spacingAndGlyphs">substrate</tspan> <tspan x="367.39" textLength="35.74" lengthAdjust="spacingAndGlyphs">where</tspan> <tspan x="406.34" textLength="32.37" lengthAdjust="spacingAndGlyphs">width</tspan> <tspan x="441.78" textLength="8.68" lengthAdjust="spacingAndGlyphs">is</tspan> <tspan x="453.43" textLength="24.56" lengthAdjust="spacingAndGlyphs">0.75</tspan> <tspan x="481.54" textLength="18.27" lengthAdjust="spacingAndGlyphs">nm</tspan></text>
<line x1="132" y1="45.7" x2="160" y2="45.7" stroke="#4472C4" stroke-width="1.9" />
<text y="47.50" font-family='"Liberation Sans", sans-serif' font-size="11.4" fill="#111" stroke="#111" stroke-width="0.3"><tspan x="170.01" textLength="15.12" lengthAdjust="spacingAndGlyphs">SH</tspan> <tspan x="188.44" textLength="34.59" lengthAdjust="spacingAndGlyphs">waves</tspan> <tspan x="226.06" textLength="10.75" lengthAdjust="spacingAndGlyphs">in</tspan> <tspan x="240.00" textLength="5.71" lengthAdjust="spacingAndGlyphs">a</tspan> <tspan x="249.82" textLength="41.24" lengthAdjust="spacingAndGlyphs">layered</tspan> <tspan x="294.54" textLength="13.66" lengthAdjust="spacingAndGlyphs">PE</tspan> <tspan x="311.63" textLength="52.50" lengthAdjust="spacingAndGlyphs">substrate</tspan> <tspan x="367.31" textLength="35.72" lengthAdjust="spacingAndGlyphs">where</tspan> <tspan x="406.24" textLength="32.35" lengthAdjust="spacingAndGlyphs">width</tspan> <tspan x="441.67" textLength="8.67" lengthAdjust="spacingAndGlyphs">is</tspan> <tspan x="453.71" textLength="31.63" lengthAdjust="spacingAndGlyphs">1.250</tspan> <tspan x="488.48" textLength="18.26" lengthAdjust="spacingAndGlyphs">nm</tspan></text>
<line x1="132" y1="57.8" x2="160" y2="57.8" stroke="#5B9BD5" stroke-width="1.9" />
<text y="60.40" font-family='"Liberation Sans", sans-serif' font-size="11.4" fill="#111" stroke="#111" stroke-width="0.3"><tspan x="170.01" textLength="15.12" lengthAdjust="spacingAndGlyphs">SH</tspan> <tspan x="188.44" textLength="34.61" lengthAdjust="spacingAndGlyphs">waves</tspan> <tspan x="226.09" textLength="10.75" lengthAdjust="spacingAndGlyphs">in</tspan> <tspan x="240.03" textLength="5.71" lengthAdjust="spacingAndGlyphs">a</tspan> <tspan x="249.86" textLength="41.25" lengthAdjust="spacingAndGlyphs">layered</tspan> <tspan x="294.59" textLength="13.66" lengthAdjust="spacingAndGlyphs">PE</tspan> <tspan x="311.68" textLength="52.52" lengthAdjust="spacingAndGlyphs">substrate</tspan> <tspan x="367.39" textLength="35.74" lengthAdjust="spacingAndGlyphs">where</tspan> <tspan x="406.34" textLength="32.37" lengthAdjust="spacingAndGlyphs">width</tspan> <tspan x="441.78" textLength="8.68" lengthAdjust="spacingAndGlyphs">is</tspan> <tspan x="453.84" textLength="24.14" lengthAdjust="spacingAndGlyphs">1.75</tspan> <tspan x="481.54" textLength="18.27" lengthAdjust="spacingAndGlyphs">nm</tspan></text>
<line x1="134" y1="72.7" x2="162.5" y2="72.7" stroke="#000" stroke-width="2.0" stroke-dasharray="8 5"/>
<text y="75.00" font-family='"Liberation Sans", sans-serif' font-size="11.4" fill="#111" stroke="#111" stroke-width="0.3"><tspan x="170.27" textLength="20.73" lengthAdjust="spacingAndGlyphs">B-G</tspan> <tspan x="194.15" textLength="34.63" lengthAdjust="spacingAndGlyphs">waves</tspan> <tspan x="231.82" textLength="10.76" lengthAdjust="spacingAndGlyphs">in</tspan> <tspan x="245.76" textLength="5.72" lengthAdjust="spacingAndGlyphs">a</tspan> <tspan x="255.60" textLength="41.28" lengthAdjust="spacingAndGlyphs">layered</tspan> <tspan x="300.36" textLength="13.67" lengthAdjust="spacingAndGlyphs">PE</tspan> <tspan x="317.47" textLength="52.56" lengthAdjust="spacingAndGlyphs">substrate</tspan> <tspan x="373.20" textLength="44.22" lengthAdjust="spacingAndGlyphs">without</tspan> <tspan x="420.68" textLength="13.06" lengthAdjust="spacingAndGlyphs">SE</tspan></text>
<line x1="134" y1="87.6" x2="162.5" y2="87.6" stroke="#ED7D31" stroke-width="1.8" stroke-dasharray="8 5"/>
<text y="89.50" font-family='"Liberation Sans", sans-serif' font-size="11.4" fill="#111" stroke="#111" stroke-width="0.3"><tspan x="170.01" textLength="15.05" lengthAdjust="spacingAndGlyphs">SH</tspan> <tspan x="188.35" textLength="34.43" lengthAdjust="spacingAndGlyphs">waves</tspan> <tspan x="225.81" textLength="10.70" lengthAdjust="spacingAndGlyphs">in</tspan> <tspan x="239.67" textLength="5.69" lengthAdjust="spacingAndGlyphs">a</tspan> <tspan x="249.43" textLength="56.81" lengthAdjust="spacingAndGlyphs">nanoplate</tspan> <tspan x="309.22" textLength="11.48" lengthAdjust="spacingAndGlyphs">of</tspan> <tspan x="324.11" textLength="13.60" lengthAdjust="spacingAndGlyphs">PE</tspan> <tspan x="341.13" textLength="46.62" lengthAdjust="spacingAndGlyphs">material</tspan> <tspan x="391.07" textLength="35.55" lengthAdjust="spacingAndGlyphs">where</tspan> <tspan x="429.82" textLength="32.20" lengthAdjust="spacingAndGlyphs">width</tspan> <tspan x="465.08" textLength="8.63" lengthAdjust="spacingAndGlyphs">is</tspan> <tspan x="476.67" textLength="24.44" lengthAdjust="spacingAndGlyphs">0.75</tspan> <tspan x="504.65" textLength="18.18" lengthAdjust="spacingAndGlyphs">nm</tspan></text>
<line x1="134" y1="100.7" x2="162.5" y2="100.7" stroke="#4472C4" stroke-width="1.8" stroke-dasharray="8 5"/>
<text y="103.30" font-family='"Liberation Sans", sans-serif' font-size="11.4" fill="#111" stroke="#111" stroke-width="0.3"><tspan x="170.01" textLength="15.05" lengthAdjust="spacingAndGlyphs">SH</tspan> <tspan x="188.35" textLength="34.43" lengthAdjust="spacingAndGlyphs">waves</tspan> <tspan x="225.81" textLength="10.70" lengthAdjust="spacingAndGlyphs">in</tspan> <tspan x="239.67" textLength="5.69" lengthAdjust="spacingAndGlyphs">a</tspan> <tspan x="249.43" textLength="56.81" lengthAdjust="spacingAndGlyphs">nanoplate</tspan> <tspan x="309.22" textLength="11.48" lengthAdjust="spacingAndGlyphs">of</tspan> <tspan x="324.11" textLength="13.60" lengthAdjust="spacingAndGlyphs">PE</tspan> <tspan x="341.13" textLength="46.62" lengthAdjust="spacingAndGlyphs">material</tspan> <tspan x="391.07" textLength="35.55" lengthAdjust="spacingAndGlyphs">where</tspan> <tspan x="429.82" textLength="32.20" lengthAdjust="spacingAndGlyphs">width</tspan> <tspan x="465.08" textLength="8.63" lengthAdjust="spacingAndGlyphs">is</tspan> <tspan x="477.07" textLength="24.39" lengthAdjust="spacingAndGlyphs">1.20</tspan> <tspan x="504.65" textLength="18.18" lengthAdjust="spacingAndGlyphs">nm</tspan></text>
<line x1="134" y1="114.6" x2="162.5" y2="114.6" stroke="#5B9BD5" stroke-width="1.8" stroke-dasharray="8 5"/>
<text y="117.30" font-family='"Liberation Sans", sans-serif' font-size="11.4" fill="#111" stroke="#111" stroke-width="0.3"><tspan x="169.31" textLength="15.07" lengthAdjust="spacingAndGlyphs">SH</tspan> <tspan x="187.68" textLength="34.48" lengthAdjust="spacingAndGlyphs">waves</tspan> <tspan x="225.18" textLength="10.72" lengthAdjust="spacingAndGlyphs">in</tspan> <tspan x="239.07" textLength="5.69" lengthAdjust="spacingAndGlyphs">a</tspan> <tspan x="248.84" textLength="56.90" lengthAdjust="spacingAndGlyphs">nanoplate</tspan> <tspan x="308.72" textLength="11.50" lengthAdjust="spacingAndGlyphs">of</tspan> <tspan x="323.63" textLength="13.61" lengthAdjust="spacingAndGlyphs">PE</tspan> <tspan x="340.67" textLength="46.68" lengthAdjust="spacingAndGlyphs">material</tspan> <tspan x="390.68" textLength="35.61" lengthAdjust="spacingAndGlyphs">where</tspan> <tspan x="429.49" textLength="32.25" lengthAdjust="spacingAndGlyphs">width</tspan> <tspan x="464.80" textLength="8.65" lengthAdjust="spacingAndGlyphs">is</tspan> <tspan x="476.82" textLength="24.05" lengthAdjust="spacingAndGlyphs">1.75</tspan> <tspan x="504.42" textLength="18.20" lengthAdjust="spacingAndGlyphs">nm</tspan></text>
<clipPath id="cia"><rect x="445" y="205.4" width="185" height="112.99999999999997"/></clipPath>
<g clip-path="url(#cia)">
<path d="M445.0 245.0 L446.0 245.1 L447.0 245.1 L448.1 245.2 L449.1 245.2 L450.1 245.2 L451.1 245.2 L452.1 245.2 L453.1 245.1 L454.2 245.1 L455.2 245.0 L456.2 245.0 L457.2 244.9 L458.2 244.8 L459.2 244.7 L460.2 244.6 L461.1 244.4 L462.1 244.3 L463.1 244.1 L464.1 244.0 L465.1 243.8 L466.1 243.6 L467.1 243.4 L468.0 243.2 L469.0 243.0 L470.0 242.8 L471.0 242.5 L471.9 242.3 L472.9 242.0 L473.9 241.7 L474.8 241.5 L475.8 241.2 L476.7 240.9 L477.7 240.6 L478.7 240.3 L479.6 239.9 L480.6 239.6 L481.5 239.3 L482.5 238.9 L483.4 238.6 L484.3 238.2 L485.3 237.9 L486.2 237.5 L487.2 237.1 L488.1 236.7 L489.0 236.3 L490.0 235.9 L490.9 235.5 L491.8 235.1 L492.7 234.7 L493.7 234.3 L494.6 233.8 L495.5 233.4 L496.4 233.0 L497.3 232.5 L498.2 232.1 L499.2 231.6 L500.1 231.2 L501.0 230.7 L501.9 230.2 L502.8 229.8 L503.7 229.3 L504.6 228.8 L505.5 228.3 L506.4 227.8 L507.3 227.4 L508.1 226.9 L509.0 226.4 L509.9 225.9 L510.8 225.4 L511.7 224.9 L512.6 224.4 L513.5 223.8 L514.3 223.3 L515.2 222.8 L516.1 222.3 L517.0 221.8 L517.8 221.2 L518.7 220.7 L519.6 220.2 L520.4 219.7 L521.3 219.1 L522.1 218.6 L523.0 218.0 L523.9 217.5 L524.7 216.9 L525.6 216.4 L526.4 215.8 L527.3 215.3 L528.1 214.7 L529.0 214.2 L529.8 213.6 L530.7 213.1 L531.5 212.5 L532.3 211.9 L533.2 211.4 L534.0 210.8 L534.9 210.2 L535.7 209.7 L536.5 209.1 L537.4 208.5 L538.2 207.9 L539.0 207.4 L539.8 206.8 L540.7 206.2 L541.5 205.6 L542.3 205.1 L543.1 204.5 L543.9 203.9 L544.8 203.3 L545.6 202.7 L546.4 202.2 L547.2 201.6 L548.0 201.0" fill="none" stroke="#8ea9db" stroke-width="1.25" stroke-linejoin="round" />
<path d="M445.0 250.4 L446.0 250.5 L447.1 250.5 L448.1 250.5 L449.1 250.5 L450.2 250.5 L451.2 250.5 L452.2 250.5 L453.2 250.4 L454.2 250.4 L455.2 250.3 L456.3 250.2 L457.3 250.1 L458.3 250.0 L459.3 249.9 L460.3 249.8 L461.3 249.6 L462.3 249.5 L463.2 249.3 L464.2 249.1 L465.2 248.9 L466.2 248.7 L467.2 248.5 L468.2 248.3 L469.2 248.1 L470.1 247.9 L471.1 247.6 L472.1 247.4 L473.0 247.1 L474.0 246.8 L475.0 246.5 L475.9 246.2 L476.9 245.9 L477.9 245.6 L478.8 245.3 L479.8 245.0 L480.7 244.6 L481.7 244.3 L482.6 244.0 L483.6 243.6 L484.5 243.2 L485.4 242.9 L486.4 242.5 L487.3 242.1 L488.3 241.7 L489.2 241.3 L490.1 240.9 L491.0 240.5 L492.0 240.1 L492.9 239.7 L493.8 239.3 L494.7 238.8 L495.7 238.4 L496.6 238.0 L497.5 237.5 L498.4 237.1 L499.3 236.6 L500.2 236.2 L501.2 235.7 L502.1 235.3 L503.0 234.8 L503.9 234.3 L504.8 233.9 L505.7 233.4 L506.6 232.9 L507.5 232.4 L508.4 232.0 L509.3 231.5 L510.2 231.0 L511.1 230.5 L511.9 230.0 L512.8 229.5 L513.7 229.0 L514.6 228.5 L515.5 228.0 L516.4 227.4 L517.3 226.9 L518.1 226.4 L519.0 225.9 L519.9 225.4 L520.8 224.8 L521.6 224.3 L522.5 223.8 L523.4 223.3 L524.2 222.7 L525.1 222.2 L526.0 221.6 L526.8 221.1 L527.7 220.6 L528.6 220.0 L529.4 219.5 L530.3 218.9 L531.1 218.3 L532.0 217.8 L532.8 217.2 L533.7 216.7 L534.5 216.1 L535.4 215.5 L536.2 215.0 L537.1 214.4 L537.9 213.8 L538.7 213.3 L539.6 212.7 L540.4 212.1 L541.2 211.6 L542.1 211.0 L542.9 210.4 L543.7 209.8 L544.6 209.2 L545.4 208.7 L546.2 208.1 L547.0 207.5 L547.9 206.9 L548.7 206.3 L549.5 205.7 L550.3 205.1 L551.1 204.6 L552.0 204.0 L552.8 203.4 L553.6 202.8 L554.4 202.2 L555.2 201.6 L556.0 201.0" fill="none" stroke="#8ea9db" stroke-width="1.15" stroke-dasharray="2.2 1.8" stroke-linejoin="round" />
<path d="M445.0 273.4 L446.0 273.6 L447.0 273.8 L448.0 273.9 L449.0 274.0 L450.0 274.1 L451.0 274.1 L452.0 274.2 L453.0 274.2 L454.0 274.1 L455.0 274.1 L456.0 274.0 L457.0 274.0 L458.0 273.9 L458.9 273.8 L459.9 273.6 L460.9 273.5 L461.9 273.3 L462.9 273.1 L463.9 272.9 L464.9 272.7 L465.9 272.5 L466.9 272.3 L467.9 272.0 L468.8 271.8 L469.8 271.5 L470.8 271.2 L471.8 271.0 L472.8 270.7 L473.7 270.4 L474.7 270.0 L475.7 269.7 L476.6 269.4 L477.6 269.1 L478.6 268.7 L479.5 268.4 L480.5 268.0 L481.4 267.7 L482.4 267.3 L483.3 266.9 L484.3 266.6 L485.2 266.2 L486.1 265.8 L487.1 265.4 L488.0 265.0 L489.0 264.6 L489.9 264.2 L490.8 263.8 L491.7 263.4 L492.7 263.0 L493.6 262.6 L494.5 262.2 L495.4 261.8 L496.3 261.4 L497.2 261.0 L498.2 260.5 L499.1 260.1 L500.0 259.7 L500.9 259.2 L501.8 258.8 L502.7 258.3 L503.6 257.9 L504.5 257.5 L505.4 257.0 L506.3 256.5 L507.2 256.1 L508.1 255.6 L509.0 255.2 L509.9 254.7 L510.8 254.2 L511.7 253.8 L512.6 253.3 L513.4 252.8 L514.3 252.4 L515.2 251.9 L516.1 251.4 L517.0 250.9 L517.9 250.5 L518.8 250.0 L519.7 249.5 L520.6 249.0 L521.4 248.5 L522.3 248.1 L523.2 247.6 L524.1 247.1 L525.0 246.6 L525.9 246.1 L526.8 245.6 L527.6 245.1 L528.5 244.6 L529.4 244.1 L530.3 243.6 L531.2 243.1 L532.0 242.6 L532.9 242.1 L533.8 241.6 L534.7 241.1 L535.5 240.6 L536.4 240.0 L537.3 239.5 L538.1 239.0 L539.0 238.4 L539.8 237.9 L540.7 237.4 L541.5 236.8 L542.4 236.3 L543.2 235.7 L544.1 235.2 L544.9 234.6 L545.8 234.0 L546.6 233.5 L547.4 232.9 L548.2 232.3 L549.1 231.7 L549.9 231.1 L550.7 230.5 L551.5 229.9 L552.3 229.3 L553.1 228.7 L553.9 228.1 L554.7 227.5 L555.5 226.9 L556.3 226.2 L557.0 225.6 L557.8 224.9 L558.6 224.3 L559.3 223.6 L560.1 223.0 L560.8 222.3 L561.6 221.6 L562.3 220.9 L563.1 220.2 L563.8 219.5 L564.5 218.8 L565.2 218.1 L566.0 217.4 L566.7 216.7 L567.4 216.0 L568.1 215.2 L568.8 214.5 L569.5 213.8 L570.2 213.0 L570.9 212.3 L571.6 211.5 L572.2 210.8 L572.9 210.0 L573.6 209.3 L574.3 208.5 L575.0 207.8 L575.6 207.0 L576.3 206.3 L577.0 205.5 L577.7 204.8 L578.3 204.0 L579.0 203.3 L579.7 202.5 L580.3 201.8 L581.0 201.0" fill="none" stroke="#8ea9db" stroke-width="1.25" stroke-linejoin="round" />
<path d="M445.0 280.6 L446.0 280.8 L447.1 280.9 L448.1 281.0 L449.1 281.1 L450.1 281.2 L451.1 281.2 L452.2 281.2 L453.2 281.2 L454.2 281.2 L455.2 281.2 L456.2 281.1 L457.2 281.0 L458.2 280.9 L459.2 280.8 L460.1 280.7 L461.1 280.5 L462.1 280.3 L463.1 280.2 L464.1 280.0 L465.0 279.7 L466.0 279.5 L467.0 279.3 L468.0 279.0 L468.9 278.7 L469.9 278.5 L470.8 278.2 L471.8 277.9 L472.8 277.6 L473.7 277.2 L474.7 276.9 L475.6 276.6 L476.6 276.2 L477.5 275.9 L478.5 275.5 L479.4 275.2 L480.4 274.8 L481.3 274.4 L482.2 274.1 L483.2 273.7 L484.1 273.3 L485.1 272.9 L486.0 272.6 L486.9 272.2 L487.9 271.8 L488.8 271.4 L489.7 271.0 L490.7 270.6 L491.6 270.2 L492.5 269.8 L493.4 269.4 L494.4 268.9 L495.3 268.5 L496.2 268.1 L497.1 267.7 L498.1 267.3 L499.0 266.8 L499.9 266.4 L500.8 266.0 L501.7 265.6 L502.6 265.1 L503.6 264.7 L504.5 264.2 L505.4 263.8 L506.3 263.4 L507.2 262.9 L508.1 262.5 L509.1 262.0 L510.0 261.6 L510.9 261.2 L511.8 260.7 L512.7 260.3 L513.6 259.8 L514.5 259.4 L515.4 258.9 L516.3 258.5 L517.2 258.0 L518.1 257.6 L519.1 257.1 L520.0 256.7 L520.9 256.2 L521.8 255.8 L522.7 255.3 L523.6 254.9 L524.5 254.4 L525.4 254.0 L526.3 253.5 L527.2 253.1 L528.1 252.6 L529.0 252.2 L529.9 251.7 L530.8 251.2 L531.7 250.8 L532.6 250.3 L533.5 249.9 L534.4 249.4 L535.3 248.9 L536.2 248.5 L537.1 248.0 L538.0 247.5 L538.9 247.1 L539.7 246.6 L540.6 246.1 L541.5 245.6 L542.4 245.1 L543.3 244.6 L544.1 244.1 L545.0 243.7 L545.9 243.2 L546.8 242.7 L547.6 242.1 L548.5 241.6 L549.4 241.1 L550.2 240.6 L551.1 240.1 L551.9 239.5 L552.8 239.0 L553.6 238.5 L554.5 237.9 L555.3 237.4 L556.2 236.8 L557.0 236.3 L557.8 235.7 L558.7 235.2 L559.5 234.6 L560.3 234.0 L561.1 233.4 L562.0 232.8 L562.8 232.2 L563.6 231.6 L564.4 231.0 L565.2 230.4 L566.0 229.8 L566.8 229.2 L567.6 228.5 L568.4 227.9 L569.2 227.3 L570.0 226.6 L570.7 226.0 L571.5 225.4 L572.3 224.7 L573.1 224.1 L573.9 223.4 L574.7 222.8 L575.4 222.1 L576.2 221.4 L577.0 220.8 L577.8 220.1 L578.5 219.5 L579.3 218.8 L580.1 218.1 L580.8 217.5 L581.6 216.8 L582.4 216.1 L583.1 215.5 L583.9 214.8 L584.7 214.1 L585.4 213.5 L586.2 212.8 L586.9 212.1 L587.7 211.4 L588.5 210.8 L589.2 210.1 L590.0 209.4 L590.8 208.8 L591.5 208.1 L592.3 207.5 L593.1 206.8 L593.8 206.2 L594.6 205.5 L595.4 204.8 L596.1 204.2 L596.9 203.6 L597.7 202.9 L598.5 202.3 L599.2 201.6 L600.0 201.0" fill="none" stroke="#8ea9db" stroke-width="1.15" stroke-dasharray="2.2 1.8" stroke-linejoin="round" />
<path d="M445.0 301.4 L446.0 301.5 L447.0 301.7 L448.0 301.8 L449.0 301.9 L450.0 302.0 L451.0 302.0 L452.1 302.1 L453.1 302.1 L454.1 302.1 L455.1 302.1 L456.1 302.1 L457.1 302.0 L458.1 302.0 L459.1 301.9 L460.1 301.8 L461.1 301.8 L462.1 301.7 L463.1 301.5 L464.1 301.4 L465.0 301.3 L466.0 301.1 L467.0 301.0 L468.0 300.8 L469.0 300.7 L470.0 300.5 L471.0 300.3 L472.0 300.1 L473.0 299.9 L473.9 299.7 L474.9 299.5 L475.9 299.2 L476.9 299.0 L477.9 298.8 L478.9 298.5 L479.8 298.3 L480.8 298.0 L481.8 297.8 L482.8 297.5 L483.7 297.2 L484.7 297.0 L485.7 296.7 L486.7 296.4 L487.6 296.2 L488.6 295.9 L489.6 295.6 L490.5 295.3 L491.5 295.0 L492.5 294.7 L493.4 294.4 L494.4 294.1 L495.4 293.8 L496.3 293.5 L497.3 293.2 L498.2 292.9 L499.2 292.6 L500.2 292.2 L501.1 291.9 L502.1 291.6 L503.0 291.3 L504.0 290.9 L504.9 290.6 L505.9 290.3 L506.8 289.9 L507.8 289.6 L508.7 289.2 L509.7 288.9 L510.6 288.5 L511.6 288.2 L512.5 287.8 L513.5 287.4 L514.4 287.1 L515.4 286.7 L516.3 286.4 L517.3 286.0 L518.2 285.6 L519.1 285.2 L520.1 284.9 L521.0 284.5 L522.0 284.1 L522.9 283.7 L523.8 283.3 L524.8 282.9 L525.7 282.6 L526.6 282.2 L527.6 281.8 L528.5 281.4 L529.4 281.0 L530.4 280.6 L531.3 280.2 L532.2 279.8 L533.1 279.4 L534.1 279.0 L535.0 278.6 L535.9 278.2 L536.8 277.8 L537.8 277.3 L538.7 276.9 L539.6 276.5 L540.5 276.1 L541.5 275.7 L542.4 275.3 L543.3 274.9 L544.2 274.4 L545.1 274.0 L546.1 273.6 L547.0 273.2 L547.9 272.7 L548.8 272.3 L549.7 271.9 L550.6 271.5 L551.6 271.0 L552.5 270.6 L553.4 270.2 L554.3 269.8 L555.2 269.3 L556.1 268.9 L557.0 268.5 L557.9 268.0 L558.9 267.6 L559.8 267.2 L560.7 266.7 L561.6 266.3 L562.5 265.8 L563.4 265.4 L564.3 265.0 L565.2 264.5 L566.1 264.1 L567.0 263.6 L567.9 263.2 L568.8 262.7 L569.7 262.3 L570.6 261.9 L571.5 261.4 L572.5 261.0 L573.4 260.5 L574.3 260.1 L575.2 259.6 L576.1 259.2 L577.0 258.7 L577.9 258.3 L578.8 257.8 L579.7 257.4 L580.6 256.9 L581.5 256.5 L582.4 256.0 L583.3 255.5 L584.2 255.1 L585.1 254.6 L586.0 254.2 L586.9 253.7 L587.8 253.3 L588.7 252.8 L589.6 252.4 L590.5 251.9 L591.4 251.4 L592.3 251.0 L593.2 250.5 L594.1 250.1 L595.0 249.6 L595.9 249.1 L596.8 248.7 L597.6 248.2 L598.5 247.8 L599.4 247.3 L600.3 246.8 L601.2 246.4 L602.1 245.9 L603.0 245.5 L603.9 245.0 L604.8 244.5 L605.7 244.1 L606.6 243.6 L607.5 243.1 L608.4 242.7 L609.3 242.2 L610.2 241.8 L611.1 241.3 L612.0 240.8 L612.9 240.4 L613.8 239.9 L614.7 239.4 L615.6 239.0 L616.5 238.5 L617.4 238.1 L618.3 237.6 L619.2 237.1 L620.1 236.7 L621.0 236.2 L621.9 235.7 L622.8 235.3 L623.7 234.8 L624.6 234.4 L625.5 233.9 L626.4 233.4 L627.3 233.0 L628.2 232.5 L629.1 232.1 L630.0 231.6" fill="none" stroke="#8ea9db" stroke-width="1.25" stroke-linejoin="round" />
<path d="M445.0 307.4 L446.0 307.5 L447.0 307.7 L448.0 307.8 L449.0 307.9 L450.0 307.9 L451.1 308.0 L452.1 308.0 L453.1 308.0 L454.1 308.0 L455.1 308.0 L456.1 307.9 L457.1 307.9 L458.0 307.8 L459.0 307.7 L460.0 307.6 L461.0 307.5 L462.0 307.3 L463.0 307.2 L464.0 307.0 L465.0 306.9 L466.0 306.7 L467.0 306.5 L467.9 306.3 L468.9 306.1 L469.9 305.9 L470.9 305.7 L471.9 305.4 L472.8 305.2 L473.8 304.9 L474.8 304.7 L475.8 304.4 L476.8 304.2 L477.7 303.9 L478.7 303.6 L479.7 303.4 L480.7 303.1 L481.6 302.8 L482.6 302.5 L483.6 302.3 L484.6 302.0 L485.5 301.7 L486.5 301.4 L487.5 301.1 L488.4 300.9 L489.4 300.6 L490.4 300.3 L491.4 300.0 L492.3 299.7 L493.3 299.4 L494.3 299.1 L495.2 298.8 L496.2 298.5 L497.2 298.2 L498.1 297.9 L499.1 297.6 L500.0 297.3 L501.0 296.9 L502.0 296.6 L502.9 296.3 L503.9 296.0 L504.8 295.7 L505.8 295.3 L506.8 295.0 L507.7 294.7 L508.7 294.4 L509.6 294.0 L510.6 293.7 L511.5 293.4 L512.5 293.0 L513.4 292.7 L514.4 292.3 L515.3 292.0 L516.3 291.6 L517.2 291.3 L518.2 290.9 L519.1 290.6 L520.0 290.2 L521.0 289.9 L521.9 289.5 L522.9 289.1 L523.8 288.8 L524.7 288.4 L525.7 288.0 L526.6 287.6 L527.5 287.3 L528.5 286.9 L529.4 286.5 L530.3 286.1 L531.3 285.7 L532.2 285.4 L533.1 285.0 L534.1 284.6 L535.0 284.2 L535.9 283.8 L536.8 283.4 L537.8 283.0 L538.7 282.6 L539.6 282.2 L540.5 281.8 L541.5 281.4 L542.4 281.0 L543.3 280.6 L544.2 280.2 L545.1 279.8 L546.1 279.4 L547.0 278.9 L547.9 278.5 L548.8 278.1 L549.7 277.7 L550.7 277.3 L551.6 276.9 L552.5 276.4 L553.4 276.0 L554.3 275.6 L555.2 275.2 L556.2 274.8 L557.1 274.3 L558.0 273.9 L558.9 273.5 L559.8 273.0 L560.7 272.6 L561.6 272.2 L562.5 271.7 L563.5 271.3 L564.4 270.9 L565.3 270.4 L566.2 270.0 L567.1 269.6 L568.0 269.1 L568.9 268.7 L569.8 268.2 L570.7 267.8 L571.6 267.4 L572.5 266.9 L573.5 266.5 L574.4 266.0 L575.3 265.6 L576.2 265.1 L577.1 264.7 L578.0 264.2 L578.9 263.8 L579.8 263.3 L580.7 262.9 L581.6 262.4 L582.5 262.0 L583.4 261.5 L584.3 261.1 L585.2 260.6 L586.1 260.2 L587.0 259.7 L587.9 259.2 L588.8 258.8 L589.7 258.3 L590.6 257.9 L591.5 257.4 L592.4 256.9 L593.3 256.5 L594.2 256.0 L595.1 255.6 L596.0 255.1 L596.9 254.6 L597.8 254.2 L598.7 253.7 L599.6 253.2 L600.5 252.8 L601.4 252.3 L602.3 251.9 L603.2 251.4 L604.1 250.9 L605.0 250.5 L605.9 250.0 L606.8 249.5 L607.7 249.1 L608.6 248.6 L609.4 248.1 L610.3 247.7 L611.2 247.2 L612.1 246.7 L613.0 246.3 L613.9 245.8 L614.8 245.3 L615.7 244.9 L616.6 244.4 L617.5 243.9 L618.4 243.5 L619.3 243.0 L620.2 242.5 L621.1 242.1 L622.0 241.6 L622.9 241.1 L623.8 240.7 L624.6 240.2 L625.5 239.7 L626.4 239.3 L627.3 238.8 L628.2 238.3 L629.1 237.9 L630.0 237.4" fill="none" stroke="#8ea9db" stroke-width="1.15" stroke-dasharray="2.2 1.8" stroke-linejoin="round" />
</g>
<line x1="445" y1="205.4" x2="630" y2="205.4" stroke="#98a4ba" stroke-width="0.9" />
<line x1="630" y1="205.4" x2="630" y2="318.4" stroke="#98a4ba" stroke-width="0.9" />
<line x1="445" y1="318.4" x2="630" y2="318.4" stroke="#98a4ba" stroke-width="1.0" />
<line x1="445" y1="205.0" x2="445" y2="318.79999999999995" stroke="#98a4ba" stroke-width="1.4" />
<line x1="438.5" y1="205.4" x2="445" y2="205.4" stroke="#6b6b6b" stroke-width="0.8" />
<text x="435.20" y="207.80" font-family='"Liberation Sans", sans-serif' font-size="6.8" text-anchor="end" fill="#444"  stroke="#444" stroke-width="0.15">4000</text>
<line x1="438.5" y1="219.6" x2="445" y2="219.6" stroke="#6b6b6b" stroke-width="0.8" />
<text x="435.20" y="222.00" font-family='"Liberation Sans", sans-serif' font-size="6.8" text-anchor="end" fill="#444"  stroke="#444" stroke-width="0.15">3500</text>
<line x1="438.5" y1="237.6" x2="445" y2="237.6" stroke="#6b6b6b" stroke-width="0.8" />
<text x="435.20" y="240.00" font-family='"Liberation Sans", sans-serif' font-size="6.8" text-anchor="end" fill="#444"  stroke="#444" stroke-width="0.15">3000</text>
<line x1="438.5" y1="255" x2="445" y2="255" stroke="#6b6b6b" stroke-width="0.8" />
<text x="435.20" y="257.40" font-family='"Liberation Sans", sans-serif' font-size="6.8" text-anchor="end" fill="#444"  stroke="#444" stroke-width="0.15">2500</text>
<line x1="438.5" y1="271.4" x2="445" y2="271.4" stroke="#6b6b6b" stroke-width="0.8" />
<text x="435.20" y="273.80" font-family='"Liberation Sans", sans-serif' font-size="6.8" text-anchor="end" fill="#444"  stroke="#444" stroke-width="0.15">2000</text>
<line x1="438.5" y1="288" x2="445" y2="288" stroke="#6b6b6b" stroke-width="0.8" />
<text x="435.20" y="290.40" font-family='"Liberation Sans", sans-serif' font-size="6.8" text-anchor="end" fill="#444"  stroke="#444" stroke-width="0.15">1500</text>
<line x1="438.5" y1="304.4" x2="445" y2="304.4" stroke="#6b6b6b" stroke-width="0.8" />
<text x="435.20" y="306.80" font-family='"Liberation Sans", sans-serif' font-size="6.8" text-anchor="end" fill="#444"  stroke="#444" stroke-width="0.15">1000</text>
<line x1="438.5" y1="318.4" x2="445" y2="318.4" stroke="#6b6b6b" stroke-width="0.8" />
<text x="435.20" y="320.80" font-family='"Liberation Sans", sans-serif' font-size="6.8" text-anchor="end" fill="#444"  stroke="#444" stroke-width="0.15">500</text>
<line x1="445" y1="318.4" x2="445" y2="323" stroke="#6b6b6b" stroke-width="0.8" />
<text x="445.00" y="331.50" font-family='"Liberation Sans", sans-serif' font-size="6.8" text-anchor="middle" fill="#444"  stroke="#444" stroke-width="0.15">0.0</text>
<line x1="460.6" y1="318.4" x2="460.6" y2="323" stroke="#6b6b6b" stroke-width="0.8" />
<text x="460.60" y="331.50" font-family='"Liberation Sans", sans-serif' font-size="6.8" text-anchor="middle" fill="#444"  stroke="#444" stroke-width="0.15">0.5</text>
<line x1="478" y1="318.4" x2="478" y2="323" stroke="#6b6b6b" stroke-width="0.8" />
<text x="478.00" y="331.50" font-family='"Liberation Sans", sans-serif' font-size="6.8" text-anchor="middle" fill="#444"  stroke="#444" stroke-width="0.15">1.0</text>
<line x1="495.4" y1="318.4" x2="495.4" y2="323" stroke="#6b6b6b" stroke-width="0.8" />
<text x="495.40" y="331.50" font-family='"Liberation Sans", sans-serif' font-size="6.8" text-anchor="middle" fill="#444"  stroke="#444" stroke-width="0.15">1.5</text>
<line x1="512" y1="318.4" x2="512" y2="323" stroke="#6b6b6b" stroke-width="0.8" />
<text x="512.00" y="331.50" font-family='"Liberation Sans", sans-serif' font-size="6.8" text-anchor="middle" fill="#444"  stroke="#444" stroke-width="0.15">2.0</text>
<line x1="530" y1="318.4" x2="530" y2="323" stroke="#6b6b6b" stroke-width="0.8" />
<text x="530.00" y="331.50" font-family='"Liberation Sans", sans-serif' font-size="6.8" text-anchor="middle" fill="#444"  stroke="#444" stroke-width="0.15">2.5</text>
<line x1="547.6" y1="318.4" x2="547.6" y2="323" stroke="#6b6b6b" stroke-width="0.8" />
<text x="547.60" y="331.50" font-family='"Liberation Sans", sans-serif' font-size="6.8" text-anchor="middle" fill="#444"  stroke="#444" stroke-width="0.15">3.0</text>
<line x1="564" y1="318.4" x2="564" y2="323" stroke="#6b6b6b" stroke-width="0.8" />
<text x="564.00" y="331.50" font-family='"Liberation Sans", sans-serif' font-size="6.8" text-anchor="middle" fill="#444"  stroke="#444" stroke-width="0.15">3.5</text>
<line x1="580.6" y1="318.4" x2="580.6" y2="323" stroke="#6b6b6b" stroke-width="0.8" />
<text x="580.60" y="331.50" font-family='"Liberation Sans", sans-serif' font-size="6.8" text-anchor="middle" fill="#444"  stroke="#444" stroke-width="0.15">4.0</text>
<line x1="596" y1="318.4" x2="596" y2="323" stroke="#6b6b6b" stroke-width="0.8" />
<text x="596.00" y="331.50" font-family='"Liberation Sans", sans-serif' font-size="6.8" text-anchor="middle" fill="#444"  stroke="#444" stroke-width="0.15">4.5</text>
<line x1="614.4" y1="318.4" x2="614.4" y2="323" stroke="#6b6b6b" stroke-width="0.8" />
<text x="614.40" y="331.50" font-family='"Liberation Sans", sans-serif' font-size="6.8" text-anchor="middle" fill="#444"  stroke="#444" stroke-width="0.15">5.0</text>
<line x1="630" y1="318.4" x2="630" y2="323" stroke="#6b6b6b" stroke-width="0.8" />
<text x="630.00" y="331.50" font-family='"Liberation Sans", sans-serif' font-size="6.8" text-anchor="middle" fill="#444"  stroke="#444" stroke-width="0.15">5.5</text>
<text transform="translate(416.00,294.55) rotate(-90)" font-family='"Liberation Sans", sans-serif' font-size="6.5" fill="#444" stroke="#444" stroke-width="0.15" textLength="67.98" lengthAdjust="spacingAndGlyphs">Phase Velocity c (m/s)</text>
<text x="527.60" y="338.80" font-family='"Liberation Serif", serif' font-size="7.5" font-style="italic" text-anchor="start" fill="#444" textLength="12.40" lengthAdjust="spacing"  stroke="#444" stroke-width="0.15">h/λ</text>
<line x1="562.4" y1="290.6" x2="570" y2="290.6" stroke="#8ea9db" stroke-width="1.0" />
<line x1="562.4" y1="302" x2="570" y2="302" stroke="#8ea9db" stroke-width="1.0" stroke-dasharray="2.2 1.8"/>
<text x="575.96" y="293.20" font-family='"Liberation Sans", sans-serif' font-size="9" text-anchor="start" fill="#333" textLength="31.41" lengthAdjust="spacingAndGlyphs"  stroke="#333" stroke-width="0.3">With SE</text>
<text x="575.96" y="305.00" font-family='"Liberation Sans", sans-serif' font-size="9" text-anchor="start" fill="#333" textLength="44.42" lengthAdjust="spacingAndGlyphs"  stroke="#333" stroke-width="0.3">Without SE</text>
<clipPath id="cib"><rect x="155.6" y="707.5" width="172.00000000000003" height="106.5"/></clipPath>
<g clip-path="url(#cib)">
<path d="M155.6 707.4 L155.6 708.5 L155.6 709.6 L155.6 710.7 L155.7 711.8 L155.8 712.8 L156.0 713.8 L156.2 714.8 L156.4 715.8 L156.7 716.8 L157.0 717.7 L157.4 718.7 L157.8 719.6 L158.2 720.5 L158.6 721.4 L159.1 722.2 L159.6 723.1 L160.1 723.9 L160.7 724.7 L161.3 725.5 L161.9 726.3 L162.5 727.1 L163.2 727.8 L163.8 728.6 L164.5 729.3 L165.2 730.0 L165.9 730.7 L166.7 731.4 L167.4 732.1 L168.2 732.7 L168.9 733.4 L169.7 734.0 L170.5 734.6 L171.3 735.2 L172.1 735.8 L172.9 736.4 L173.7 736.9 L174.5 737.5 L175.4 738.0 L176.2 738.5 L177.0 739.1 L177.9 739.6 L178.8 740.1 L179.6 740.5 L180.5 741.0 L181.4 741.5 L182.3 741.9 L183.2 742.4 L184.1 742.8 L185.0 743.2 L185.9 743.7 L186.8 744.1 L187.7 744.5 L188.6 744.9 L189.6 745.2 L190.5 745.6 L191.4 746.0 L192.4 746.3 L193.3 746.7 L194.3 747.0 L195.2 747.4 L196.2 747.7 L197.2 748.0 L198.1 748.4 L199.1 748.7 L200.1 749.0 L201.0 749.3 L202.0 749.6 L203.0 749.9 L204.0 750.2 L205.0 750.5 L206.0 750.7 L206.9 751.0 L207.9 751.3 L208.9 751.5 L209.9 751.8 L210.9 752.1 L211.9 752.3 L212.9 752.6 L213.9 752.8 L214.9 753.1 L215.9 753.3 L216.9 753.6 L217.9 753.8 L218.8 754.1 L219.8 754.3 L220.8 754.6 L221.8 754.8 L222.8 755.1 L223.8 755.3 L224.8 755.5 L225.8 755.8 L226.7 756.0 L227.7 756.3 L228.7 756.5 L229.7 756.8 L230.7 757.0 L231.6 757.2 L232.6 757.5 L233.6 757.7 L234.5 758.0 L235.5 758.2 L236.5 758.5 L237.4 758.7 L238.4 759.0 L239.4 759.2 L240.3 759.5 L241.3 759.7 L242.3 760.0 L243.2 760.2 L244.2 760.5 L245.1 760.7 L246.1 761.0 L247.1 761.3 L248.0 761.5 L249.0 761.8 L249.9 762.0 L250.9 762.3 L251.9 762.6 L252.8 762.8 L253.8 763.1 L254.7 763.4 L255.7 763.6 L256.7 763.9 L257.6 764.2 L258.6 764.4 L259.5 764.7 L260.5 765.0 L261.5 765.2 L262.4 765.5 L263.4 765.8 L264.4 766.1 L265.3 766.3 L266.3 766.6 L267.3 766.9 L268.2 767.2 L269.2 767.4 L270.2 767.7 L271.1 768.0 L272.1 768.3 L273.1 768.5 L274.1 768.8 L275.0 769.0 L276.0 769.3 L277.0 769.6 L278.0 769.8 L278.9 770.1 L279.9 770.3 L280.9 770.6 L281.9 770.8 L282.8 771.1 L283.8 771.3 L284.8 771.5 L285.8 771.8 L286.8 772.0 L287.7 772.2 L288.7 772.5 L289.7 772.7 L290.7 772.9 L291.7 773.1 L292.7 773.3 L293.6 773.5 L294.6 773.7 L295.6 773.9 L296.6 774.1 L297.6 774.3 L298.6 774.5 L299.6 774.7 L300.6 774.8 L301.5 775.0 L302.5 775.2 L303.5 775.3 L304.5 775.5 L305.5 775.6 L306.5 775.8 L307.5 775.9 L308.5 776.0 L309.5 776.2 L310.5 776.3 L311.5 776.4 L312.5 776.5 L313.5 776.6 L314.5 776.7 L315.5 776.8 L316.5 776.9 L317.5 777.0 L318.5 777.0 L319.5 777.1 L320.5 777.2 L321.5 777.2 L322.5 777.3 L323.6 777.3 L324.6 777.3 L325.6 777.4 L326.6 777.4 L327.6 777.4" fill="none" stroke="#8ea9db" stroke-width="1.25" stroke-linejoin="round" />
<path d="M156.0 711.0 L156.0 712.1 L156.1 713.3 L156.2 714.4 L156.3 715.4 L156.5 716.5 L156.7 717.6 L156.9 718.6 L157.2 719.6 L157.4 720.6 L157.7 721.6 L158.1 722.5 L158.4 723.5 L158.8 724.4 L159.2 725.3 L159.6 726.2 L160.1 727.0 L160.5 727.9 L161.0 728.7 L161.5 729.6 L162.1 730.4 L162.6 731.2 L163.2 732.0 L163.8 732.7 L164.4 733.5 L165.0 734.2 L165.7 734.9 L166.4 735.6 L167.0 736.3 L167.7 737.0 L168.4 737.6 L169.2 738.3 L169.9 738.9 L170.6 739.5 L171.4 740.1 L172.2 740.7 L172.9 741.3 L173.7 741.9 L174.5 742.4 L175.3 743.0 L176.2 743.5 L177.0 744.0 L177.8 744.5 L178.7 745.0 L179.5 745.5 L180.4 746.0 L181.2 746.4 L182.1 746.9 L183.0 747.3 L183.9 747.8 L184.8 748.2 L185.7 748.6 L186.6 749.0 L187.5 749.4 L188.4 749.8 L189.3 750.1 L190.3 750.5 L191.2 750.9 L192.1 751.2 L193.1 751.6 L194.0 751.9 L195.0 752.2 L196.0 752.5 L196.9 752.9 L197.9 753.2 L198.9 753.5 L199.8 753.8 L200.8 754.1 L201.8 754.4 L202.8 754.6 L203.7 754.9 L204.7 755.2 L205.7 755.5 L206.7 755.7 L207.7 756.0 L208.7 756.3 L209.7 756.5 L210.7 756.8 L211.7 757.0 L212.7 757.3 L213.7 757.5 L214.7 757.8 L215.7 758.0 L216.7 758.3 L217.7 758.5 L218.7 758.7 L219.7 759.0 L220.7 759.2 L221.7 759.5 L222.7 759.7 L223.7 759.9 L224.7 760.2 L225.7 760.4 L226.7 760.7 L227.7 760.9 L228.7 761.2 L229.7 761.4 L230.7 761.7 L231.7 761.9 L232.7 762.2 L233.6 762.4 L234.6 762.7 L235.6 762.9 L236.6 763.2 L237.6 763.4 L238.5 763.7 L239.5 763.9 L240.5 764.2 L241.5 764.5 L242.5 764.7 L243.4 765.0 L244.4 765.2 L245.4 765.5 L246.3 765.7 L247.3 766.0 L248.3 766.3 L249.2 766.5 L250.2 766.8 L251.2 767.0 L252.1 767.3 L253.1 767.5 L254.1 767.8 L255.0 768.1 L256.0 768.3 L257.0 768.6 L257.9 768.8 L258.9 769.1 L259.9 769.3 L260.8 769.6 L261.8 769.8 L262.7 770.1 L263.7 770.3 L264.7 770.6 L265.6 770.8 L266.6 771.1 L267.6 771.3 L268.5 771.6 L269.5 771.8 L270.4 772.1 L271.4 772.3 L272.4 772.6 L273.3 772.8 L274.3 773.0 L275.2 773.3 L276.2 773.5 L277.2 773.8 L278.1 774.0 L279.1 774.2 L280.1 774.5 L281.0 774.7 L282.0 774.9 L283.0 775.1 L283.9 775.4 L284.9 775.6 L285.9 775.8 L286.8 776.0 L287.8 776.2 L288.8 776.4 L289.7 776.7 L290.7 776.9 L291.7 777.1 L292.7 777.3 L293.6 777.5 L294.6 777.7 L295.6 777.9 L296.6 778.1 L297.5 778.3 L298.5 778.5 L299.5 778.6 L300.5 778.8 L301.5 779.0 L302.4 779.2 L303.4 779.4 L304.4 779.5 L305.4 779.7 L306.4 779.9 L307.4 780.0 L308.4 780.2 L309.4 780.4 L310.4 780.5 L311.4 780.7 L312.4 780.8 L313.4 781.0 L314.4 781.1 L315.4 781.2 L316.4 781.4 L317.4 781.5 L318.4 781.6 L319.4 781.8 L320.4 781.9 L321.5 782.0 L322.5 782.1 L323.5 782.2 L324.5 782.3 L325.5 782.4 L326.6 782.5 L327.6 782.6" fill="none" stroke="#8ea9db" stroke-width="1.15" stroke-dasharray="2.2 1.8" stroke-linejoin="round" />
<path d="M155.6 725.0 L155.6 726.1 L155.6 727.2 L155.7 728.3 L155.8 729.4 L155.9 730.5 L156.1 731.5 L156.3 732.5 L156.6 733.5 L156.9 734.5 L157.2 735.4 L157.5 736.4 L157.9 737.3 L158.3 738.2 L158.8 739.1 L159.2 739.9 L159.7 740.8 L160.2 741.6 L160.8 742.5 L161.3 743.3 L161.9 744.0 L162.5 744.8 L163.2 745.6 L163.8 746.3 L164.5 747.0 L165.1 747.7 L165.8 748.4 L166.5 749.1 L167.3 749.8 L168.0 750.4 L168.7 751.1 L169.5 751.7 L170.3 752.3 L171.0 752.9 L171.8 753.5 L172.6 754.1 L173.4 754.7 L174.2 755.2 L175.0 755.8 L175.8 756.3 L176.7 756.8 L177.5 757.3 L178.4 757.8 L179.2 758.3 L180.1 758.8 L181.0 759.3 L181.8 759.7 L182.7 760.2 L183.6 760.6 L184.5 761.1 L185.4 761.5 L186.3 761.9 L187.2 762.3 L188.2 762.7 L189.1 763.1 L190.0 763.5 L191.0 763.8 L191.9 764.2 L192.8 764.6 L193.8 764.9 L194.7 765.3 L195.7 765.6 L196.7 765.9 L197.6 766.3 L198.6 766.6 L199.6 766.9 L200.6 767.2 L201.5 767.5 L202.5 767.8 L203.5 768.1 L204.5 768.4 L205.5 768.7 L206.5 768.9 L207.5 769.2 L208.5 769.5 L209.5 769.8 L210.5 770.0 L211.5 770.3 L212.5 770.5 L213.5 770.8 L214.5 771.1 L215.5 771.3 L216.5 771.6 L217.5 771.8 L218.5 772.0 L219.5 772.3 L220.5 772.5 L221.5 772.8 L222.5 773.0 L223.5 773.3 L224.5 773.5 L225.5 773.7 L226.5 774.0 L227.5 774.2 L228.5 774.5 L229.5 774.7 L230.5 774.9 L231.5 775.2 L232.5 775.4 L233.5 775.6 L234.5 775.9 L235.5 776.1 L236.4 776.4 L237.4 776.6 L238.4 776.8 L239.4 777.1 L240.4 777.3 L241.4 777.6 L242.4 777.8 L243.3 778.0 L244.3 778.3 L245.3 778.5 L246.3 778.7 L247.2 779.0 L248.2 779.2 L249.2 779.5 L250.2 779.7 L251.2 779.9 L252.1 780.2 L253.1 780.4 L254.1 780.6 L255.0 780.9 L256.0 781.1 L257.0 781.3 L258.0 781.6 L258.9 781.8 L259.9 782.0 L260.9 782.3 L261.8 782.5 L262.8 782.7 L263.8 783.0 L264.8 783.2 L265.7 783.4 L266.7 783.7 L267.7 783.9 L268.6 784.1 L269.6 784.4 L270.6 784.6 L271.5 784.8 L272.5 785.1 L273.5 785.3 L274.4 785.5 L275.4 785.8 L276.4 786.0 L277.3 786.2 L278.3 786.4 L279.3 786.7 L280.3 786.9 L281.2 787.1 L282.2 787.4 L283.2 787.6 L284.1 787.8 L285.1 788.0 L286.1 788.3 L287.1 788.5 L288.0 788.7 L289.0 788.9 L290.0 789.2 L290.9 789.4 L291.9 789.6 L292.9 789.8 L293.9 790.1 L294.8 790.3 L295.8 790.5 L296.8 790.7 L297.8 790.9 L298.8 791.2 L299.7 791.4 L300.7 791.6 L301.7 791.8 L302.7 792.1 L303.7 792.3 L304.6 792.5 L305.6 792.7 L306.6 792.9 L307.6 793.1 L308.6 793.4 L309.6 793.6 L310.6 793.8 L311.6 794.0 L312.6 794.2 L313.6 794.4 L314.5 794.7 L315.5 794.9 L316.5 795.1 L317.5 795.3 L318.5 795.5 L319.5 795.7 L320.5 795.9 L321.5 796.1 L322.6 796.4 L323.6 796.6 L324.6 796.8 L325.6 797.0 L326.6 797.2 L327.6 797.4" fill="none" stroke="#8ea9db" stroke-width="1.25" stroke-linejoin="round" />
<path d="M156.6 735.0 L156.8 736.1 L157.0 737.1 L157.3 738.2 L157.6 739.2 L157.9 740.2 L158.3 741.2 L158.6 742.1 L159.0 743.1 L159.4 744.0 L159.9 744.9 L160.4 745.7 L160.8 746.6 L161.4 747.4 L161.9 748.3 L162.5 749.1 L163.0 749.9 L163.6 750.6 L164.2 751.4 L164.9 752.1 L165.5 752.8 L166.2 753.5 L166.9 754.2 L167.6 754.9 L168.3 755.6 L169.0 756.2 L169.7 756.9 L170.5 757.5 L171.3 758.1 L172.0 758.7 L172.8 759.3 L173.6 759.8 L174.4 760.4 L175.2 760.9 L176.1 761.5 L176.9 762.0 L177.7 762.5 L178.6 763.0 L179.4 763.5 L180.3 763.9 L181.2 764.4 L182.0 764.9 L182.9 765.3 L183.8 765.8 L184.7 766.2 L185.6 766.6 L186.5 767.0 L187.4 767.4 L188.3 767.8 L189.3 768.2 L190.2 768.6 L191.1 768.9 L192.1 769.3 L193.0 769.6 L194.0 770.0 L194.9 770.3 L195.9 770.7 L196.8 771.0 L197.8 771.3 L198.8 771.6 L199.7 771.9 L200.7 772.2 L201.7 772.5 L202.7 772.8 L203.7 773.1 L204.6 773.4 L205.6 773.7 L206.6 773.9 L207.6 774.2 L208.6 774.5 L209.6 774.7 L210.6 775.0 L211.6 775.2 L212.6 775.5 L213.6 775.7 L214.6 776.0 L215.6 776.2 L216.6 776.5 L217.6 776.7 L218.6 777.0 L219.6 777.2 L220.6 777.4 L221.6 777.7 L222.6 777.9 L223.6 778.1 L224.6 778.4 L225.6 778.6 L226.6 778.8 L227.6 779.1 L228.6 779.3 L229.6 779.5 L230.6 779.7 L231.6 780.0 L232.6 780.2 L233.6 780.4 L234.6 780.7 L235.6 780.9 L236.6 781.1 L237.5 781.4 L238.5 781.6 L239.5 781.8 L240.5 782.1 L241.5 782.3 L242.5 782.5 L243.4 782.7 L244.4 783.0 L245.4 783.2 L246.4 783.4 L247.3 783.7 L248.3 783.9 L249.3 784.1 L250.3 784.3 L251.3 784.6 L252.2 784.8 L253.2 785.0 L254.2 785.3 L255.1 785.5 L256.1 785.7 L257.1 785.9 L258.1 786.2 L259.0 786.4 L260.0 786.6 L261.0 786.9 L261.9 787.1 L262.9 787.3 L263.9 787.5 L264.8 787.8 L265.8 788.0 L266.8 788.2 L267.8 788.4 L268.7 788.7 L269.7 788.9 L270.7 789.1 L271.6 789.3 L272.6 789.6 L273.6 789.8 L274.5 790.0 L275.5 790.2 L276.5 790.4 L277.4 790.7 L278.4 790.9 L279.4 791.1 L280.3 791.3 L281.3 791.6 L282.3 791.8 L283.2 792.0 L284.2 792.2 L285.2 792.4 L286.2 792.7 L287.1 792.9 L288.1 793.1 L289.1 793.3 L290.0 793.5 L291.0 793.8 L292.0 794.0 L293.0 794.2 L293.9 794.4 L294.9 794.6 L295.9 794.8 L296.9 795.1 L297.8 795.3 L298.8 795.5 L299.8 795.7 L300.8 795.9 L301.8 796.1 L302.7 796.4 L303.7 796.6 L304.7 796.8 L305.7 797.0 L306.7 797.2 L307.7 797.4 L308.6 797.6 L309.6 797.8 L310.6 798.1 L311.6 798.3 L312.6 798.5 L313.6 798.7 L314.6 798.9 L315.6 799.1 L316.6 799.3 L317.6 799.5 L318.6 799.7 L319.6 799.9 L320.6 800.2 L321.6 800.4 L322.6 800.6 L323.6 800.8 L324.6 801.0 L325.6 801.2 L326.6 801.4 L327.6 801.6" fill="none" stroke="#8ea9db" stroke-width="1.15" stroke-dasharray="2.2 1.8" stroke-linejoin="round" />
<path d="M155.6 748.0 L155.6 749.1 L155.7 750.2 L155.8 751.2 L155.9 752.3 L156.0 753.3 L156.2 754.3 L156.4 755.4 L156.7 756.3 L157.0 757.3 L157.3 758.3 L157.6 759.2 L158.0 760.2 L158.4 761.1 L158.8 762.0 L159.3 762.9 L159.7 763.8 L160.2 764.7 L160.7 765.5 L161.3 766.4 L161.8 767.2 L162.4 768.0 L163.0 768.8 L163.6 769.6 L164.2 770.3 L164.9 771.1 L165.5 771.9 L166.2 772.6 L166.9 773.3 L167.6 774.0 L168.3 774.7 L169.0 775.4 L169.8 776.0 L170.5 776.7 L171.3 777.3 L172.1 778.0 L172.8 778.6 L173.6 779.2 L174.4 779.8 L175.2 780.4 L176.0 780.9 L176.9 781.5 L177.7 782.0 L178.5 782.6 L179.4 783.1 L180.2 783.6 L181.1 784.1 L181.9 784.6 L182.8 785.1 L183.7 785.5 L184.6 786.0 L185.5 786.5 L186.4 786.9 L187.3 787.3 L188.2 787.8 L189.1 788.2 L190.1 788.6 L191.0 789.0 L191.9 789.4 L192.9 789.8 L193.8 790.1 L194.8 790.5 L195.7 790.9 L196.7 791.2 L197.6 791.6 L198.6 791.9 L199.6 792.3 L200.5 792.6 L201.5 792.9 L202.5 793.3 L203.5 793.6 L204.5 793.9 L205.4 794.2 L206.4 794.5 L207.4 794.8 L208.4 795.1 L209.4 795.4 L210.4 795.6 L211.4 795.9 L212.4 796.2 L213.4 796.5 L214.4 796.7 L215.4 797.0 L216.4 797.3 L217.4 797.5 L218.4 797.8 L219.4 798.0 L220.4 798.3 L221.4 798.6 L222.4 798.8 L223.4 799.1 L224.4 799.3 L225.3 799.6 L226.3 799.8 L227.3 800.0 L228.3 800.3 L229.3 800.5 L230.3 800.8 L231.3 801.0 L232.2 801.3 L233.2 801.5 L234.2 801.8 L235.2 802.0 L236.1 802.2 L237.1 802.5 L238.1 802.7 L239.1 802.9 L240.0 803.2 L241.0 803.4 L242.0 803.6 L243.0 803.9 L243.9 804.1 L244.9 804.3 L245.9 804.6 L246.8 804.8 L247.8 805.0 L248.8 805.2 L249.7 805.5 L250.7 805.7 L251.7 805.9 L252.7 806.1 L253.6 806.3 L254.6 806.5 L255.6 806.8 L256.5 807.0 L257.5 807.2 L258.5 807.4 L259.5 807.6 L260.4 807.8 L261.4 808.0 L262.4 808.2 L263.4 808.4 L264.4 808.6 L265.3 808.8 L266.3 809.0 L267.3 809.2 L268.3 809.4 L269.3 809.6 L270.3 809.8 L271.3 809.9 L272.3 810.1 L273.3 810.3 L274.2 810.5 L275.2 810.7 L276.2 810.8 L277.2 811.0 L278.2 811.2 L279.2 811.4 L280.2 811.6 L281.2 811.8 L282.2 811.9 L283.2 812.1 L284.2 812.3 L285.2 812.5 L286.2 812.7 L287.2 812.9 L288.2 813.1 L289.2 813.3 L290.2 813.5 L291.2 813.8 L292.2 814.0 L293.2 814.2 L294.2 814.5 L295.1 814.7 L296.1 814.9 L297.1 815.2 L298.1 815.5 L299.0 815.7 L300.0 816.0" fill="none" stroke="#8ea9db" stroke-width="1.25" stroke-linejoin="round" />
<path d="M156.6 755.0 L156.7 756.1 L156.9 757.2 L157.1 758.3 L157.3 759.4 L157.5 760.5 L157.8 761.5 L158.1 762.5 L158.4 763.5 L158.7 764.5 L159.0 765.5 L159.4 766.4 L159.8 767.4 L160.2 768.3 L160.6 769.2 L161.1 770.1 L161.5 770.9 L162.0 771.8 L162.5 772.6 L163.1 773.4 L163.6 774.2 L164.2 775.0 L164.7 775.8 L165.3 776.6 L165.9 777.3 L166.5 778.0 L167.2 778.7 L167.8 779.5 L168.5 780.1 L169.2 780.8 L169.9 781.5 L170.6 782.1 L171.3 782.8 L172.1 783.4 L172.8 784.0 L173.6 784.6 L174.4 785.2 L175.2 785.8 L176.0 786.3 L176.8 786.9 L177.6 787.4 L178.4 787.9 L179.3 788.5 L180.1 789.0 L181.0 789.5 L181.9 790.0 L182.7 790.4 L183.6 790.9 L184.5 791.4 L185.4 791.8 L186.3 792.3 L187.3 792.7 L188.2 793.1 L189.1 793.5 L190.1 794.0 L191.0 794.4 L192.0 794.7 L192.9 795.1 L193.9 795.5 L194.8 795.9 L195.8 796.2 L196.8 796.6 L197.8 797.0 L198.7 797.3 L199.7 797.6 L200.7 798.0 L201.7 798.3 L202.7 798.6 L203.7 799.0 L204.6 799.3 L205.6 799.6 L206.6 799.9 L207.6 800.2 L208.6 800.5 L209.6 800.8 L210.6 801.1 L211.6 801.4 L212.6 801.6 L213.6 801.9 L214.6 802.2 L215.5 802.5 L216.5 802.7 L217.5 803.0 L218.5 803.3 L219.5 803.6 L220.5 803.8 L221.5 804.1 L222.5 804.3 L223.5 804.6 L224.5 804.9 L225.4 805.1 L226.4 805.4 L227.4 805.6 L228.4 805.9 L229.4 806.1 L230.4 806.4 L231.4 806.6 L232.4 806.9 L233.3 807.1 L234.3 807.4 L235.3 807.7 L236.3 807.9 L237.3 808.2 L238.2 808.4 L239.2 808.7 L240.2 809.0 L241.2 809.2 L242.1 809.5 L243.1 809.8 L244.1 810.0 L245.1 810.3 L246.0 810.6 L247.0 810.9 L248.0 811.2 L248.9 811.4 L249.9 811.7 L250.8 812.0 L251.8 812.3 L252.8 812.6 L253.7 812.9 L254.7 813.2 L255.6 813.6 L256.6 813.9 L257.5 814.2 L258.5 814.5 L259.4 814.9 L260.3 815.2 L261.3 815.6 L262.2 815.9 L263.1 816.3 L264.1 816.6 L265.0 817.0" fill="none" stroke="#8ea9db" stroke-width="1.15" stroke-dasharray="2.2 1.8" stroke-linejoin="round" />
</g>
<line x1="155.6" y1="707.5" x2="327.6" y2="707.5" stroke="#98a4ba" stroke-width="0.9" />
<line x1="327.6" y1="707.5" x2="327.6" y2="814" stroke="#98a4ba" stroke-width="0.9" />
<line x1="155.6" y1="814" x2="327.6" y2="814" stroke="#98a4ba" stroke-width="1.0" />
<line x1="155.6" y1="707.1" x2="155.6" y2="814.4" stroke="#98a4ba" stroke-width="1.4" />
<line x1="149" y1="707.4" x2="155.6" y2="707.4" stroke="#6b6b6b" stroke-width="0.8" />
<text x="146.80" y="709.80" font-family='"Liberation Sans", sans-serif' font-size="6.3" text-anchor="end" fill="#444"  stroke="#444" stroke-width="0.15">4000</text>
<line x1="149" y1="721" x2="155.6" y2="721" stroke="#6b6b6b" stroke-width="0.8" />
<text x="146.80" y="723.40" font-family='"Liberation Sans", sans-serif' font-size="6.3" text-anchor="end" fill="#444"  stroke="#444" stroke-width="0.15">3500</text>
<line x1="149" y1="737.4" x2="155.6" y2="737.4" stroke="#6b6b6b" stroke-width="0.8" />
<text x="146.80" y="739.80" font-family='"Liberation Sans", sans-serif' font-size="6.3" text-anchor="end" fill="#444"  stroke="#444" stroke-width="0.15">3000</text>
<line x1="149" y1="753.6" x2="155.6" y2="753.6" stroke="#6b6b6b" stroke-width="0.8" />
<text x="146.80" y="756.00" font-family='"Liberation Sans", sans-serif' font-size="6.3" text-anchor="end" fill="#444"  stroke="#444" stroke-width="0.15">2500</text>
<line x1="149" y1="769.4" x2="155.6" y2="769.4" stroke="#6b6b6b" stroke-width="0.8" />
<text x="146.80" y="771.80" font-family='"Liberation Sans", sans-serif' font-size="6.3" text-anchor="end" fill="#444"  stroke="#444" stroke-width="0.15">2000</text>
<line x1="149" y1="785" x2="155.6" y2="785" stroke="#6b6b6b" stroke-width="0.8" />
<text x="146.80" y="787.40" font-family='"Liberation Sans", sans-serif' font-size="6.3" text-anchor="end" fill="#444"  stroke="#444" stroke-width="0.15">1500</text>
<line x1="149" y1="800.4" x2="155.6" y2="800.4" stroke="#6b6b6b" stroke-width="0.8" />
<text x="146.80" y="802.80" font-family='"Liberation Sans", sans-serif' font-size="6.3" text-anchor="end" fill="#444"  stroke="#444" stroke-width="0.15">1000</text>
<line x1="149" y1="814" x2="155.6" y2="814" stroke="#6b6b6b" stroke-width="0.8" />
<text x="146.80" y="816.40" font-family='"Liberation Sans", sans-serif' font-size="6.3" text-anchor="end" fill="#444"  stroke="#444" stroke-width="0.15">500</text>
<line x1="155.6" y1="814" x2="155.6" y2="817.4" stroke="#6b6b6b" stroke-width="0.8" />
<text x="155.60" y="827.00" font-family='"Liberation Sans", sans-serif' font-size="6.8" text-anchor="middle" fill="#444"  stroke="#444" stroke-width="0.15">0.0</text>
<line x1="170" y1="814" x2="170" y2="817.4" stroke="#6b6b6b" stroke-width="0.8" />
<text x="170.00" y="827.00" font-family='"Liberation Sans", sans-serif' font-size="6.8" text-anchor="middle" fill="#444"  stroke="#444" stroke-width="0.15">0.5</text>
<line x1="186.6" y1="814" x2="186.6" y2="817.4" stroke="#6b6b6b" stroke-width="0.8" />
<text x="186.60" y="827.00" font-family='"Liberation Sans", sans-serif' font-size="6.8" text-anchor="middle" fill="#444"  stroke="#444" stroke-width="0.15">1.0</text>
<line x1="202.6" y1="814" x2="202.6" y2="817.4" stroke="#6b6b6b" stroke-width="0.8" />
<text x="202.60" y="827.00" font-family='"Liberation Sans", sans-serif' font-size="6.8" text-anchor="middle" fill="#444"  stroke="#444" stroke-width="0.15">1.5</text>
<line x1="217.6" y1="814" x2="217.6" y2="817.4" stroke="#6b6b6b" stroke-width="0.8" />
<text x="217.60" y="827.00" font-family='"Liberation Sans", sans-serif' font-size="6.8" text-anchor="middle" fill="#444"  stroke="#444" stroke-width="0.15">2.0</text>
<line x1="234.6" y1="814" x2="234.6" y2="817.4" stroke="#6b6b6b" stroke-width="0.8" />
<text x="234.60" y="827.00" font-family='"Liberation Sans", sans-serif' font-size="6.8" text-anchor="middle" fill="#444"  stroke="#444" stroke-width="0.15">2.5</text>
<line x1="250.8" y1="814" x2="250.8" y2="817.4" stroke="#6b6b6b" stroke-width="0.8" />
<text x="250.80" y="827.00" font-family='"Liberation Sans", sans-serif' font-size="6.8" text-anchor="middle" fill="#444"  stroke="#444" stroke-width="0.15">3.0</text>
<line x1="266" y1="814" x2="266" y2="817.4" stroke="#6b6b6b" stroke-width="0.8" />
<text x="266.00" y="827.00" font-family='"Liberation Sans", sans-serif' font-size="6.8" text-anchor="middle" fill="#444"  stroke="#444" stroke-width="0.15">3.5</text>
<line x1="281.4" y1="814" x2="281.4" y2="817.4" stroke="#6b6b6b" stroke-width="0.8" />
<text x="281.40" y="827.00" font-family='"Liberation Sans", sans-serif' font-size="6.8" text-anchor="middle" fill="#444"  stroke="#444" stroke-width="0.15">4.0</text>
<line x1="296.6" y1="814" x2="296.6" y2="817.4" stroke="#6b6b6b" stroke-width="0.8" />
<text x="296.60" y="827.00" font-family='"Liberation Sans", sans-serif' font-size="6.8" text-anchor="middle" fill="#444"  stroke="#444" stroke-width="0.15">4.5</text>
<line x1="313.6" y1="814" x2="313.6" y2="817.4" stroke="#6b6b6b" stroke-width="0.8" />
<text x="313.60" y="827.00" font-family='"Liberation Sans", sans-serif' font-size="6.8" text-anchor="middle" fill="#444"  stroke="#444" stroke-width="0.15">5.0</text>
<line x1="327.6" y1="814" x2="327.6" y2="817.4" stroke="#6b6b6b" stroke-width="0.8" />
<text x="327.60" y="827.00" font-family='"Liberation Sans", sans-serif' font-size="6.8" text-anchor="middle" fill="#444"  stroke="#444" stroke-width="0.15">5.5</text>
<text transform="translate(128.60,790.51) rotate(-90)" font-family='"Liberation Sans", sans-serif' font-size="6" fill="#444" stroke="#444" stroke-width="0.15" textLength="62.91" lengthAdjust="spacingAndGlyphs">Phase Velocity c (m/s)</text>
<text x="233.00" y="834.00" font-family='"Liberation Serif", serif' font-size="7.5" font-style="italic" text-anchor="start" fill="#444" textLength="11.00" lengthAdjust="spacing"  stroke="#444" stroke-width="0.15">h/λ</text>
<line x1="255" y1="724.4" x2="265.6" y2="724.4" stroke="#8ea9db" stroke-width="1.0" />
<line x1="255" y1="735.6" x2="265.6" y2="735.6" stroke="#8ea9db" stroke-width="1.0" stroke-dasharray="2.2 1.8"/>
<text x="269.96" y="727.40" font-family='"Liberation Sans", sans-serif' font-size="8.5" text-anchor="start" fill="#333" textLength="28.98" lengthAdjust="spacingAndGlyphs"  stroke="#333" stroke-width="0.3">With SE</text>
<text x="269.96" y="739.00" font-family='"Liberation Sans", sans-serif' font-size="8.5" text-anchor="start" fill="#333" textLength="41.79" lengthAdjust="spacingAndGlyphs"  stroke="#333" stroke-width="0.3">Without SE</text>
<line x1="112.9" y1="491.70000000000005" x2="112.9" y2="834.6" stroke="#172a57" stroke-width="1.7" />
<line x1="112.0" y1="492.6" x2="672.1" y2="492.6" stroke="#172a57" stroke-width="2.0" />
<line x1="671" y1="491.6" x2="671" y2="834.6" stroke="#172a57" stroke-width="2.2" />
<line x1="112.9" y1="833.7" x2="672.1" y2="833.7" stroke="#172a57" stroke-width="1.8" />
<clipPath id="cb"><rect x="111.9" y="492.6" width="559.1" height="341.1"/></clipPath>
<g clip-path="url(#cb)">
<path d="M113.3 509.6 L114.1 511.5 L114.9 513.3 L115.6 515.2 L116.4 517.0 L117.2 518.8 L118.0 520.7 L118.7 522.5 L119.5 524.4 L120.3 526.2 L121.1 528.1 L121.8 529.9 L122.6 531.8 L123.4 533.6 L124.2 535.4 L125.0 537.3 L125.7 539.1 L126.5 541.0 L127.3 542.8 L128.1 544.7 L128.9 546.5 L129.7 548.3 L130.5 550.2 L131.3 552.0 L132.2 553.9 L133.0 555.7 L133.8 557.6 L134.7 559.4 L135.5 561.3 L136.3 563.1 L137.2 565.0 L138.1 566.8 L138.9 568.7 L139.8 570.5 L140.7 572.3 L141.6 574.2 L142.6 576.0 L143.5 577.8 L144.5 579.6 L145.4 581.4 L146.4 583.2 L147.4 585.0 L148.4 586.7 L149.4 588.5 L150.5 590.2 L151.6 591.9 L152.7 593.6 L153.8 595.3 L154.9 597.0 L156.0 598.6 L157.2 600.2 L158.4 601.9 L159.6 603.4 L160.9 605.0 L162.2 606.5 L163.5 608.1 L164.8 609.6 L166.1 611.0 L167.5 612.5 L168.9 613.9 L170.3 615.2 L171.7 616.6 L173.2 617.9 L174.7 619.2 L176.2 620.4 L177.8 621.7 L179.3 622.8 L180.9 624.0 L182.6 625.1 L184.2 626.2 L185.9 627.3 L187.6 628.3 L189.3 629.3 L191.0 630.2 L192.7 631.2 L194.5 632.1 L196.3 633.0 L198.1 633.9 L199.9 634.7 L201.7 635.5 L203.5 636.4 L205.3 637.1 L207.2 637.9 L209.0 638.7 L210.9 639.4 L212.8 640.1 L214.6 640.8 L216.5 641.5 L218.4 642.2 L220.3 642.8 L222.3 643.4 L224.2 644.0 L226.1 644.6 L228.0 645.2 L230.0 645.8 L231.9 646.4 L233.9 646.9 L235.8 647.4 L237.8 648.0 L239.8 648.5 L241.8 649.0 L243.7 649.5 L245.7 649.9 L247.7 650.4 L249.7 650.9 L251.7 651.3 L253.6 651.8 L255.6 652.2 L257.6 652.6 L259.6 653.0 L261.6 653.4 L263.6 653.8 L265.6 654.2 L267.6 654.6 L269.6 655.0 L271.5 655.4 L273.5 655.8 L275.5 656.1 L277.5 656.5 L279.5 656.8 L281.5 657.2 L283.5 657.5 L285.5 657.9 L287.5 658.2 L289.5 658.5 L291.5 658.8 L293.5 659.1 L295.4 659.5 L297.4 659.8 L299.4 660.0 L301.4 660.3 L303.4 660.6 L305.4 660.9 L307.4 661.2 L309.4 661.4 L311.4 661.7 L313.4 662.0 L315.4 662.2 L317.4 662.5 L319.4 662.7 L321.4 662.9 L323.4 663.2 L325.4 663.4 L327.4 663.6 L329.4 663.8 L331.3 664.0 L333.3 664.2 L335.3 664.4 L337.3 664.6 L339.3 664.8 L341.3 665.0 L343.3 665.2 L345.3 665.4 L347.3 665.6 L349.3 665.7 L351.3 665.9 L353.3 666.1 L355.3 666.2 L357.3 666.4 L359.3 666.5 L361.3 666.7 L363.3 666.8 L365.3 667.0 L367.3 667.1 L369.3 667.2 L371.3 667.4 L373.3 667.5 L375.3 667.6 L377.3 667.7 L379.3 667.8 L381.3 668.0 L383.3 668.1 L385.3 668.2 L387.3 668.3 L389.3 668.4 L391.3 668.5 L393.3 668.5 L395.4 668.6 L397.4 668.7 L399.4 668.8 L401.4 668.9 L403.4 669.0 L405.4 669.0 L407.4 669.1 L409.4 669.2 L411.4 669.2 L413.4 669.3 L415.4 669.4 L417.4 669.4 L419.4 669.5 L421.4 669.5 L423.4 669.6 L425.4 669.6 L427.4 669.7 L429.5 669.7 L431.5 669.8 L433.5 669.8 L435.5 669.9 L437.5 669.9 L439.5 669.9 L441.5 670.0 L443.5 670.0 L445.5 670.0 L447.5 670.1 L449.6 670.1 L451.6 670.1 L453.6 670.1 L455.6 670.2 L457.6 670.2 L459.6 670.2 L461.6 670.2 L463.6 670.2 L465.7 670.3 L467.7 670.3 L469.7 670.3 L471.7 670.3 L473.7 670.3 L475.7 670.3 L477.7 670.3 L479.7 670.3 L481.8 670.3 L483.8 670.3 L485.8 670.3 L487.8 670.3 L489.8 670.3 L491.8 670.3 L493.8 670.3 L495.9 670.3 L497.9 670.3 L499.9 670.3 L501.9 670.3 L503.9 670.3 L505.9 670.3 L508.0 670.3 L510.0 670.3 L512.0 670.3 L514.0 670.3 L516.0 670.2 L518.0 670.2 L520.1 670.2 L522.1 670.2 L524.1 670.2 L526.1 670.2 L528.1 670.2 L530.1 670.1 L532.1 670.1 L534.2 670.1 L536.2 670.1 L538.2 670.1 L540.2 670.0 L542.2 670.0 L544.2 670.0 L546.3 670.0 L548.3 670.0 L550.3 669.9 L552.3 669.9 L554.3 669.9 L556.3 669.9 L558.4 669.9 L560.4 669.8 L562.4 669.8 L564.4 669.8 L566.4 669.8 L568.4 669.7 L570.5 669.7 L572.5 669.7 L574.5 669.7 L576.5 669.6 L578.5 669.6 L580.5 669.6 L582.5 669.6 L584.6 669.6 L586.6 669.5 L588.6 669.5 L590.6 669.5 L592.6 669.5 L594.6 669.5 L596.6 669.4 L598.7 669.4 L600.7 669.4 L602.7 669.4 L604.7 669.4 L606.7 669.3 L608.7 669.3 L610.7 669.3 L612.8 669.3 L614.8 669.3 L616.8 669.3 L618.8 669.2 L620.8 669.2 L622.8 669.2 L624.8 669.2 L626.8 669.2 L628.8 669.2 L630.9 669.2 L632.9 669.2 L634.9 669.2 L636.9 669.2 L638.9 669.1 L640.9 669.1 L642.9 669.1 L644.9 669.1 L646.9 669.1 L648.9 669.1 L650.9 669.1 L652.9 669.1 L655.0 669.1 L657.0 669.1 L659.0 669.1 L661.0 669.2 L663.0 669.2 L665.0 669.2 L667.0 669.2 L669.0 669.2 L671.0 669.2" fill="none" stroke="#000" stroke-width="1.9" stroke-linejoin="round" />
<path d="M113.2 511.0 L113.8 512.8 L114.3 514.7 L114.9 516.5 L115.5 518.4 L116.0 520.3 L116.6 522.1 L117.1 524.0 L117.7 525.9 L118.2 527.8 L118.7 529.8 L119.3 531.7 L119.8 533.6 L120.4 535.5 L120.9 537.5 L121.5 539.4 L122.1 541.4 L122.6 543.3 L123.2 545.3 L123.8 547.3 L124.3 549.2 L124.9 551.2 L125.5 553.1 L126.1 555.1 L126.8 557.1 L127.4 559.0 L128.0 561.0 L128.7 562.9 L129.3 564.9 L130.0 566.8 L130.7 568.8 L131.4 570.7 L132.1 572.6 L132.8 574.5 L133.5 576.5 L134.3 578.4 L135.1 580.3 L135.9 582.2 L136.7 584.0 L137.5 585.9 L138.3 587.7 L139.2 589.6 L140.1 591.4 L141.0 593.2 L141.9 595.0 L142.8 596.8 L143.8 598.6 L144.8 600.3 L145.8 602.1 L146.8 603.8 L147.9 605.5 L149.0 607.1 L150.1 608.8 L151.2 610.4 L152.3 612.0 L153.5 613.6 L154.7 615.2 L156.0 616.7 L157.2 618.3 L158.5 619.8 L159.8 621.2 L161.1 622.7 L162.4 624.1 L163.8 625.5 L165.2 626.9 L166.6 628.3 L168.0 629.6 L169.5 630.9 L171.0 632.2 L172.5 633.5 L174.0 634.7 L175.5 635.9 L177.1 637.1 L178.6 638.2 L180.2 639.4 L181.9 640.5 L183.5 641.6 L185.2 642.6 L186.8 643.6 L188.5 644.6 L190.2 645.6 L192.0 646.5 L193.7 647.4 L195.5 648.3 L197.3 649.2 L199.1 650.0 L200.9 650.8 L202.7 651.6 L204.5 652.3 L206.4 653.1 L208.3 653.8 L210.1 654.5 L212.0 655.2 L213.9 655.8 L215.8 656.5 L217.8 657.1 L219.7 657.7 L221.6 658.3 L223.6 658.9 L225.5 659.4 L227.5 660.0 L229.4 660.5 L231.4 661.0 L233.4 661.5 L235.3 662.0 L237.3 662.5 L239.3 663.0 L241.3 663.5 L243.3 663.9 L245.2 664.4 L247.2 664.8 L249.2 665.3 L251.2 665.7 L253.2 666.1 L255.2 666.5 L257.2 666.9 L259.1 667.3 L261.1 667.7 L263.1 668.1 L265.1 668.5 L267.1 668.9 L269.1 669.3 L271.0 669.6 L273.0 670.0 L275.0 670.4 L277.0 670.7 L279.0 671.1 L281.0 671.4 L283.0 671.7 L285.0 672.1 L286.9 672.4 L288.9 672.7 L290.9 673.0 L292.9 673.3 L294.9 673.6 L296.9 673.9 L298.9 674.2 L300.9 674.5 L302.9 674.8 L304.8 675.0 L306.8 675.3 L308.8 675.6 L310.8 675.8 L312.8 676.1 L314.8 676.4 L316.8 676.6 L318.8 676.9 L320.8 677.1 L322.8 677.3 L324.8 677.6 L326.7 677.8 L328.7 678.0 L330.7 678.3 L332.7 678.5 L334.7 678.7 L336.7 678.9 L338.7 679.1 L340.7 679.3 L342.7 679.5 L344.7 679.7 L346.7 679.9 L348.7 680.1 L350.7 680.3 L352.7 680.5 L354.7 680.7 L356.6 680.9 L358.6 681.0 L360.6 681.2 L362.6 681.4 L364.6 681.6 L366.6 681.8 L368.6 681.9 L370.6 682.1 L372.6 682.3 L374.6 682.4 L376.6 682.6 L378.6 682.7 L380.6 682.9 L382.6 683.1 L384.6 683.2 L386.6 683.4 L388.6 683.5 L390.6 683.7 L392.6 683.8 L394.6 684.0 L396.6 684.1 L398.6 684.3 L400.6 684.4 L402.6 684.6 L404.6 684.7 L406.6 684.9 L408.6 685.0 L410.6 685.2 L412.6 685.3 L414.6 685.5 L416.6 685.6 L418.6 685.8 L420.6 685.9 L422.6 686.1 L424.6 686.2 L426.6 686.3 L428.6 686.5 L430.6 686.6 L432.6 686.8 L434.6 686.9 L436.6 687.1 L438.6 687.2 L440.6 687.4 L442.6 687.5 L444.6 687.7 L446.6 687.8 L448.6 687.9 L450.6 688.1 L452.6 688.2 L454.6 688.4 L456.6 688.5 L458.6 688.7 L460.6 688.8 L462.6 689.0 L464.6 689.1 L466.6 689.2 L468.6 689.4 L470.6 689.5 L472.6 689.7 L474.6 689.8 L476.6 690.0 L478.6 690.1 L480.6 690.2 L482.6 690.4 L484.6 690.5 L486.6 690.7 L488.6 690.8 L490.6 690.9 L492.6 691.1 L494.6 691.2 L496.6 691.4 L498.6 691.5 L500.6 691.6 L502.6 691.8 L504.6 691.9 L506.7 692.0 L508.7 692.2 L510.7 692.3 L512.7 692.5 L514.7 692.6 L516.7 692.7 L518.7 692.9 L520.7 693.0 L522.7 693.1 L524.7 693.3 L526.7 693.4 L528.7 693.5 L530.7 693.7 L532.7 693.8 L534.7 693.9 L536.7 694.1 L538.7 694.2 L540.7 694.3 L542.7 694.5 L544.7 694.6 L546.7 694.7 L548.7 694.8 L550.8 695.0 L552.8 695.1 L554.8 695.2 L556.8 695.4 L558.8 695.5 L560.8 695.6 L562.8 695.7 L564.8 695.9 L566.8 696.0 L568.8 696.1 L570.8 696.2 L572.8 696.4 L574.8 696.5 L576.8 696.6 L578.8 696.7 L580.8 696.8 L582.8 697.0 L584.8 697.1 L586.8 697.2 L588.8 697.3 L590.8 697.4 L592.9 697.6 L594.9 697.7 L596.9 697.8 L598.9 697.9 L600.9 698.0 L602.9 698.1 L604.9 698.2 L606.9 698.4 L608.9 698.5 L610.9 698.6 L612.9 698.7 L614.9 698.8 L616.9 698.9 L618.9 699.0 L620.9 699.1 L622.9 699.2 L624.9 699.3 L626.9 699.5 L628.9 699.6 L630.9 699.7 L632.9 699.8 L634.9 699.9 L636.9 700.0 L639.0 700.1 L641.0 700.2 L643.0 700.3 L645.0 700.4 L647.0 700.5 L649.0 700.6 L651.0 700.7 L653.0 700.8 L655.0 700.9 L657.0 701.0 L659.0 701.1 L661.0 701.1 L663.0 701.2 L665.0 701.3 L667.0 701.4 L669.0 701.5 L671.0 701.6" fill="none" stroke="#4472C4" stroke-width="1.75" stroke-linejoin="round" />
<path d="M113.2 513.0 L113.4 514.9 L113.7 516.8 L113.9 518.7 L114.1 520.6 L114.4 522.6 L114.6 524.5 L114.8 526.5 L115.0 528.5 L115.2 530.4 L115.4 532.4 L115.6 534.4 L115.7 536.4 L115.9 538.5 L116.1 540.5 L116.3 542.5 L116.5 544.5 L116.8 546.6 L117.0 548.6 L117.2 550.7 L117.4 552.7 L117.7 554.7 L117.9 556.8 L118.2 558.8 L118.4 560.9 L118.7 562.9 L119.0 565.0 L119.3 567.0 L119.7 569.1 L120.0 571.1 L120.4 573.1 L120.8 575.2 L121.2 577.2 L121.6 579.2 L122.0 581.2 L122.5 583.2 L123.0 585.2 L123.5 587.2 L124.0 589.1 L124.6 591.1 L125.2 593.0 L125.8 595.0 L126.4 596.9 L127.1 598.8 L127.8 600.7 L128.5 602.6 L129.2 604.4 L130.0 606.3 L130.8 608.1 L131.6 609.9 L132.5 611.7 L133.4 613.4 L134.3 615.2 L135.3 616.9 L136.3 618.6 L137.3 620.3 L138.3 621.9 L139.4 623.5 L140.6 625.1 L141.7 626.7 L142.9 628.2 L144.1 629.7 L145.4 631.2 L146.7 632.7 L148.0 634.1 L149.4 635.6 L150.7 636.9 L152.1 638.3 L153.6 639.6 L155.0 641.0 L156.5 642.3 L158.0 643.5 L159.6 644.8 L161.1 646.0 L162.7 647.2 L164.3 648.3 L165.9 649.5 L167.6 650.6 L169.2 651.7 L170.9 652.8 L172.6 653.8 L174.3 654.8 L176.0 655.8 L177.8 656.8 L179.5 657.8 L181.3 658.7 L183.1 659.6 L184.9 660.5 L186.7 661.4 L188.6 662.2 L190.4 663.0 L192.2 663.8 L194.1 664.6 L196.0 665.4 L197.8 666.1 L199.7 666.8 L201.6 667.5 L203.5 668.2 L205.4 668.8 L207.3 669.5 L209.2 670.1 L211.2 670.7 L213.1 671.3 L215.0 671.9 L217.0 672.5 L218.9 673.0 L220.9 673.6 L222.8 674.1 L224.8 674.6 L226.8 675.1 L228.7 675.6 L230.7 676.1 L232.7 676.6 L234.6 677.1 L236.6 677.5 L238.6 678.0 L240.6 678.4 L242.6 678.9 L244.6 679.3 L246.5 679.8 L248.5 680.2 L250.5 680.6 L252.5 681.0 L254.5 681.4 L256.4 681.8 L258.4 682.2 L260.4 682.6 L262.4 683.0 L264.4 683.4 L266.4 683.8 L268.3 684.2 L270.3 684.6 L272.3 684.9 L274.3 685.3 L276.3 685.7 L278.3 686.0 L280.2 686.4 L282.2 686.7 L284.2 687.1 L286.2 687.4 L288.2 687.8 L290.2 688.1 L292.1 688.4 L294.1 688.8 L296.1 689.1 L298.1 689.4 L300.1 689.7 L302.1 690.0 L304.1 690.3 L306.0 690.6 L308.0 691.0 L310.0 691.3 L312.0 691.6 L314.0 691.9 L316.0 692.1 L317.9 692.4 L319.9 692.7 L321.9 693.0 L323.9 693.3 L325.9 693.6 L327.9 693.8 L329.9 694.1 L331.8 694.4 L333.8 694.7 L335.8 694.9 L337.8 695.2 L339.8 695.4 L341.8 695.7 L343.8 696.0 L345.8 696.2 L347.7 696.5 L349.7 696.7 L351.7 697.0 L353.7 697.2 L355.7 697.5 L357.7 697.7 L359.7 697.9 L361.7 698.2 L363.6 698.4 L365.6 698.7 L367.6 698.9 L369.6 699.1 L371.6 699.4 L373.6 699.6 L375.6 699.8 L377.6 700.0 L379.6 700.3 L381.5 700.5 L383.5 700.7 L385.5 701.0 L387.5 701.2 L389.5 701.4 L391.5 701.6 L393.5 701.8 L395.5 702.1 L397.5 702.3 L399.5 702.5 L401.5 702.7 L403.4 702.9 L405.4 703.2 L407.4 703.4 L409.4 703.6 L411.4 703.8 L413.4 704.0 L415.4 704.2 L417.4 704.5 L419.4 704.7 L421.4 704.9 L423.4 705.1 L425.4 705.3 L427.4 705.5 L429.4 705.8 L431.3 706.0 L433.3 706.2 L435.3 706.4 L437.3 706.6 L439.3 706.8 L441.3 707.1 L443.3 707.3 L445.3 707.5 L447.3 707.7 L449.3 708.0 L451.3 708.2 L453.3 708.4 L455.3 708.6 L457.3 708.8 L459.3 709.1 L461.3 709.3 L463.3 709.5 L465.3 709.7 L467.3 710.0 L469.3 710.2 L471.3 710.4 L473.3 710.7 L475.3 710.9 L477.3 711.1 L479.3 711.3 L481.3 711.6 L483.3 711.8 L485.3 712.0 L487.3 712.3 L489.3 712.5 L491.3 712.7 L493.3 712.9 L495.3 713.2 L497.3 713.4 L499.3 713.6 L501.3 713.9 L503.3 714.1 L505.3 714.3 L507.3 714.6 L509.3 714.8 L511.3 715.0 L513.3 715.3 L515.3 715.5 L517.3 715.7 L519.3 716.0 L521.3 716.2 L523.3 716.4 L525.3 716.7 L527.3 716.9 L529.3 717.1 L531.3 717.4 L533.3 717.6 L535.3 717.8 L537.3 718.1 L539.3 718.3 L541.3 718.6 L543.3 718.8 L545.3 719.0 L547.3 719.3 L549.3 719.5 L551.3 719.7 L553.3 720.0 L555.3 720.2 L557.3 720.5 L559.3 720.7 L561.3 720.9 L563.3 721.2 L565.3 721.4 L567.3 721.6 L569.3 721.9 L571.3 722.1 L573.3 722.4 L575.3 722.6 L577.3 722.8 L579.3 723.1 L581.3 723.3 L583.3 723.5 L585.3 723.8 L587.3 724.0 L589.3 724.3 L591.3 724.5 L593.3 724.7 L595.3 725.0 L597.3 725.2 L599.3 725.5 L601.3 725.7 L603.2 725.9 L605.2 726.2 L607.2 726.4 L609.2 726.7 L611.2 726.9 L613.2 727.1 L615.2 727.4 L617.2 727.6 L619.2 727.8 L621.2 728.1 L623.2 728.3 L625.2 728.6 L627.2 728.8 L629.2 729.0 L631.2 729.3 L633.2 729.5 L635.2 729.7 L637.2 730.0 L639.2 730.2 L641.1 730.5 L643.1 730.7 L645.1 730.9 L647.1 731.2 L649.1 731.4 L651.1 731.6 L653.1 731.9 L655.1 732.1 L657.1 732.4 L659.1 732.6 L661.1 732.8 L663.0 733.1 L665.0 733.3 L667.0 733.5 L669.0 733.8 L671.0 734.0" fill="none" stroke="#ED7D31" stroke-width="1.75" stroke-linejoin="round" />
<path d="M113.2 511.0 L113.3 513.0 L113.4 515.0 L113.5 516.9 L113.6 518.9 L113.7 520.9 L113.8 522.9 L113.9 524.9 L114.0 526.9 L114.1 528.8 L114.2 530.8 L114.3 532.8 L114.4 534.8 L114.4 536.8 L114.5 538.8 L114.6 540.8 L114.7 542.8 L114.8 544.8 L114.9 546.8 L115.0 548.8 L115.1 550.8 L115.2 552.8 L115.3 554.8 L115.4 556.9 L115.5 558.9 L115.6 560.9 L115.7 562.9 L115.9 565.0 L116.0 567.0 L116.1 569.0 L116.3 571.1 L116.4 573.1 L116.6 575.1 L116.8 577.2 L116.9 579.2 L117.1 581.3 L117.3 583.3 L117.5 585.4 L117.8 587.4 L118.0 589.5 L118.3 591.6 L118.5 593.6 L118.8 595.6 L119.1 597.7 L119.5 599.7 L119.8 601.7 L120.2 603.7 L120.6 605.7 L121.0 607.7 L121.5 609.7 L122.0 611.7 L122.5 613.6 L123.0 615.6 L123.6 617.5 L124.2 619.4 L124.9 621.3 L125.6 623.2 L126.3 625.0 L127.0 626.8 L127.8 628.6 L128.7 630.4 L129.6 632.2 L130.5 633.9 L131.5 635.6 L132.5 637.3 L133.5 639.0 L134.6 640.6 L135.7 642.2 L136.9 643.8 L138.1 645.4 L139.3 646.9 L140.6 648.4 L141.9 649.9 L143.2 651.3 L144.6 652.7 L146.0 654.1 L147.4 655.5 L148.9 656.8 L150.4 658.1 L151.9 659.3 L153.4 660.5 L155.0 661.7 L156.6 662.9 L158.2 664.0 L159.9 665.1 L161.5 666.1 L163.2 667.1 L164.9 668.1 L166.7 669.0 L168.4 669.9 L170.2 670.8 L172.0 671.6 L173.8 672.4 L175.7 673.2 L177.5 673.9 L179.4 674.6 L181.3 675.3 L183.2 675.9 L185.1 676.5 L187.0 677.1 L189.0 677.7 L190.9 678.2 L192.9 678.7 L194.8 679.2 L196.8 679.7 L198.8 680.2 L200.8 680.7 L202.8 681.1 L204.8 681.5 L206.8 681.9 L208.8 682.3 L210.9 682.7 L212.9 683.1 L214.9 683.5 L216.9 683.9 L218.9 684.3 L221.0 684.7 L223.0 685.0 L225.0 685.4 L227.0 685.8 L229.0 686.2 L231.0 686.6 L233.1 687.0 L235.1 687.4 L237.0 687.8 L239.0 688.2 L241.0 688.6 L243.0 689.0 L245.0 689.4 L247.0 689.9 L249.0 690.3 L250.9 690.7 L252.9 691.2 L254.9 691.6 L256.8 692.0 L258.8 692.5 L260.8 692.9 L262.7 693.4 L264.7 693.8 L266.6 694.3 L268.6 694.7 L270.5 695.2 L272.5 695.6 L274.4 696.1 L276.4 696.5 L278.3 697.0 L280.3 697.4 L282.2 697.9 L284.2 698.3 L286.1 698.8 L288.0 699.3 L290.0 699.7 L291.9 700.2 L293.9 700.6 L295.8 701.1 L297.7 701.5 L299.7 702.0 L301.6 702.4 L303.6 702.9 L305.5 703.3 L307.4 703.8 L309.4 704.2 L311.3 704.7 L313.3 705.1 L315.2 705.5 L317.2 706.0 L319.1 706.4 L321.1 706.8 L323.0 707.2 L325.0 707.7 L326.9 708.1 L328.9 708.5 L330.8 708.9 L332.8 709.3 L334.8 709.7 L336.7 710.1 L338.7 710.5 L340.7 710.9 L342.6 711.3 L344.6 711.7 L346.6 712.1 L348.5 712.5 L350.5 712.9 L352.5 713.3 L354.4 713.7 L356.4 714.0 L358.4 714.4 L360.4 714.8 L362.3 715.2 L364.3 715.5 L366.3 715.9 L368.3 716.3 L370.2 716.6 L372.2 717.0 L374.2 717.4 L376.2 717.7 L378.2 718.1 L380.2 718.5 L382.1 718.8 L384.1 719.2 L386.1 719.5 L388.1 719.9 L390.1 720.2 L392.1 720.6 L394.0 720.9 L396.0 721.3 L398.0 721.6 L400.0 722.0 L402.0 722.3 L404.0 722.7 L406.0 723.0 L408.0 723.4 L409.9 723.7 L411.9 724.1 L413.9 724.4 L415.9 724.8 L417.9 725.1 L419.9 725.5 L421.9 725.8 L423.9 726.2 L425.9 726.5 L427.8 726.9 L429.8 727.2 L431.8 727.6 L433.8 727.9 L435.8 728.2 L437.8 728.6 L439.8 728.9 L441.7 729.3 L443.7 729.6 L445.7 730.0 L447.7 730.3 L449.7 730.7 L451.7 731.0 L453.6 731.4 L455.6 731.7 L457.6 732.1 L459.6 732.4 L461.6 732.8 L463.6 733.1 L465.5 733.5 L467.5 733.8 L469.5 734.2 L471.5 734.6 L473.5 734.9 L475.4 735.3 L477.4 735.6 L479.4 736.0 L481.4 736.3 L483.4 736.7 L485.3 737.0 L487.3 737.4 L489.3 737.8 L491.3 738.1 L493.3 738.5 L495.2 738.8 L497.2 739.2 L499.2 739.6 L501.2 739.9 L503.1 740.3 L505.1 740.6 L507.1 741.0 L509.1 741.4 L511.0 741.7 L513.0 742.1 L515.0 742.4 L517.0 742.8 L519.0 743.2 L520.9 743.5 L522.9 743.9 L524.9 744.3 L526.9 744.6 L528.8 745.0 L530.8 745.4 L532.8 745.7 L534.8 746.1 L536.7 746.5 L538.7 746.8 L540.7 747.2 L542.6 747.6 L544.6 747.9 L546.6 748.3 L548.6 748.7 L550.5 749.0 L552.5 749.4 L554.5 749.8 L556.5 750.2 L558.4 750.5 L560.4 750.9 L562.4 751.3 L564.4 751.6 L566.3 752.0 L568.3 752.4 L570.3 752.8 L572.3 753.1 L574.2 753.5 L576.2 753.9 L578.2 754.3 L580.1 754.6 L582.1 755.0 L584.1 755.4 L586.1 755.8 L588.0 756.1 L590.0 756.5 L592.0 756.9 L594.0 757.3 L595.9 757.7 L597.9 758.0 L599.9 758.4 L601.9 758.8 L603.8 759.2 L605.8 759.6 L607.8 759.9 L609.7 760.3 L611.7 760.7 L613.7 761.1 L615.7 761.5 L617.6 761.9 L619.6 762.3 L621.6 762.6 L623.6 763.0 L625.5 763.4 L627.5 763.8 L629.5 764.2 L631.5 764.6 L633.4 765.0 L635.4 765.3 L637.4 765.7 L639.4 766.1 L641.3 766.5 L643.3 766.9 L645.3 767.3 L647.3 767.7 L649.2 768.1 L651.2 768.5 L653.2 768.9 L655.2 769.2 L657.2 769.6 L659.1 770.0 L661.1 770.4 L663.1 770.8 L665.1 771.2 L667.0 771.6 L669.0 772.0 L671.0 772.4" fill="none" stroke="#5B9BD5" stroke-width="1.75" stroke-linejoin="round" />
<line x1="113" y1="669.8" x2="671" y2="669.8" stroke="#2b3a52" stroke-width="1.9" stroke-dasharray="7.6 5.5"/>
<path d="M113.0 671.0 L115.0 671.1 L117.0 671.2 L119.0 671.3 L121.0 671.4 L123.0 671.5 L125.0 671.6 L127.1 671.7 L129.1 671.8 L131.1 671.9 L133.1 672.0 L135.1 672.1 L137.1 672.2 L139.1 672.3 L141.1 672.4 L143.1 672.5 L145.1 672.6 L147.1 672.7 L149.1 672.8 L151.1 672.9 L153.2 673.1 L155.2 673.2 L157.2 673.3 L159.2 673.4 L161.2 673.5 L163.2 673.6 L165.2 673.7 L167.2 673.8 L169.2 673.9 L171.2 674.0 L173.2 674.1 L175.2 674.2 L177.2 674.3 L179.3 674.4 L181.3 674.5 L183.3 674.6 L185.3 674.7 L187.3 674.9 L189.3 675.0 L191.3 675.1 L193.3 675.2 L195.3 675.3 L197.3 675.4 L199.3 675.5 L201.3 675.6 L203.3 675.7 L205.3 675.8 L207.4 675.9 L209.4 676.0 L211.4 676.2 L213.4 676.3 L215.4 676.4 L217.4 676.5 L219.4 676.6 L221.4 676.7 L223.4 676.8 L225.4 676.9 L227.4 677.0 L229.4 677.1 L231.4 677.3 L233.5 677.4 L235.5 677.5 L237.5 677.6 L239.5 677.7 L241.5 677.8 L243.5 677.9 L245.5 678.0 L247.5 678.1 L249.5 678.3 L251.5 678.4 L253.5 678.5 L255.5 678.6 L257.5 678.7 L259.5 678.8 L261.6 678.9 L263.6 679.0 L265.6 679.2 L267.6 679.3 L269.6 679.4 L271.6 679.5 L273.6 679.6 L275.6 679.7 L277.6 679.8 L279.6 679.9 L281.6 680.1 L283.6 680.2 L285.6 680.3 L287.6 680.4 L289.7 680.5 L291.7 680.6 L293.7 680.7 L295.7 680.9 L297.7 681.0 L299.7 681.1 L301.7 681.2 L303.7 681.3 L305.7 681.4 L307.7 681.5 L309.7 681.7 L311.7 681.8 L313.7 681.9 L315.7 682.0 L317.7 682.1 L319.8 682.2 L321.8 682.4 L323.8 682.5 L325.8 682.6 L327.8 682.7 L329.8 682.8 L331.8 682.9 L333.8 683.0 L335.8 683.2 L337.8 683.3 L339.8 683.4 L341.8 683.5 L343.8 683.6 L345.8 683.7 L347.9 683.9 L349.9 684.0 L351.9 684.1 L353.9 684.2 L355.9 684.3 L357.9 684.4 L359.9 684.6 L361.9 684.7 L363.9 684.8 L365.9 684.9 L367.9 685.0 L369.9 685.1 L371.9 685.3 L373.9 685.4 L375.9 685.5 L378.0 685.6 L380.0 685.7 L382.0 685.8 L384.0 686.0 L386.0 686.1 L388.0 686.2 L390.0 686.3 L392.0 686.4 L394.0 686.5 L396.0 686.7 L398.0 686.8 L400.0 686.9 L402.0 687.0 L404.0 687.1 L406.1 687.2 L408.1 687.4 L410.1 687.5 L412.1 687.6 L414.1 687.7 L416.1 687.8 L418.1 687.9 L420.1 688.1 L422.1 688.2 L424.1 688.3 L426.1 688.4 L428.1 688.5 L430.1 688.6 L432.1 688.8 L434.1 688.9 L436.2 689.0 L438.2 689.1 L440.2 689.2 L442.2 689.3 L444.2 689.5 L446.2 689.6 L448.2 689.7 L450.2 689.8 L452.2 689.9 L454.2 690.0 L456.2 690.2 L458.2 690.3 L460.2 690.4 L462.2 690.5 L464.3 690.6 L466.3 690.7 L468.3 690.9 L470.3 691.0 L472.3 691.1 L474.3 691.2 L476.3 691.3 L478.3 691.4 L480.3 691.6 L482.3 691.7 L484.3 691.8 L486.3 691.9 L488.3 692.0 L490.3 692.1 L492.4 692.3 L494.4 692.4 L496.4 692.5 L498.4 692.6 L500.4 692.7 L502.4 692.8 L504.4 693.0 L506.4 693.1 L508.4 693.2 L510.4 693.3 L512.4 693.4 L514.4 693.5 L516.4 693.7 L518.4 693.8 L520.4 693.9 L522.5 694.0 L524.5 694.1 L526.5 694.2 L528.5 694.4 L530.5 694.5 L532.5 694.6 L534.5 694.7 L536.5 694.8 L538.5 694.9 L540.5 695.0 L542.5 695.2 L544.5 695.3 L546.5 695.4 L548.5 695.5 L550.6 695.6 L552.6 695.7 L554.6 695.8 L556.6 696.0 L558.6 696.1 L560.6 696.2 L562.6 696.3 L564.6 696.4 L566.6 696.5 L568.6 696.6 L570.6 696.8 L572.6 696.9 L574.6 697.0 L576.6 697.1 L578.7 697.2 L580.7 697.3 L582.7 697.4 L584.7 697.6 L586.7 697.7 L588.7 697.8 L590.7 697.9 L592.7 698.0 L594.7 698.1 L596.7 698.2 L598.7 698.3 L600.7 698.5 L602.7 698.6 L604.8 698.7 L606.8 698.8 L608.8 698.9 L610.8 699.0 L612.8 699.1 L614.8 699.2 L616.8 699.3 L618.8 699.5 L620.8 699.6 L622.8 699.7 L624.8 699.8 L626.8 699.9 L628.8 700.0 L630.8 700.1 L632.9 700.2 L634.9 700.3 L636.9 700.5 L638.9 700.6 L640.9 700.7 L642.9 700.8 L644.9 700.9 L646.9 701.0 L648.9 701.1 L650.9 701.2 L652.9 701.3 L654.9 701.4 L656.9 701.5 L659.0 701.7 L661.0 701.8 L663.0 701.9 L665.0 702.0 L667.0 702.1 L669.0 702.2 L671.0 702.3" fill="none" stroke="#4472C4" stroke-width="1.8" stroke-dasharray="7.6 5.5" stroke-linejoin="round" />
<path d="M113.0 671.0 L115.0 671.2 L117.0 671.4 L119.0 671.6 L121.0 671.8 L123.0 672.0 L125.0 672.2 L127.0 672.4 L129.0 672.6 L131.0 672.7 L133.0 672.9 L135.0 673.1 L137.0 673.3 L139.0 673.5 L141.0 673.7 L143.0 673.9 L145.0 674.1 L147.0 674.3 L149.0 674.5 L151.1 674.7 L153.1 674.9 L155.1 675.1 L157.1 675.3 L159.1 675.5 L161.1 675.8 L163.1 676.0 L165.1 676.2 L167.1 676.4 L169.1 676.6 L171.1 676.8 L173.1 677.0 L175.1 677.2 L177.1 677.4 L179.1 677.6 L181.1 677.8 L183.1 678.0 L185.1 678.2 L187.1 678.4 L189.1 678.7 L191.1 678.9 L193.1 679.1 L195.1 679.3 L197.1 679.5 L199.1 679.7 L201.1 679.9 L203.1 680.1 L205.1 680.3 L207.1 680.6 L209.1 680.8 L211.1 681.0 L213.1 681.2 L215.1 681.4 L217.1 681.6 L219.1 681.8 L221.1 682.1 L223.1 682.3 L225.1 682.5 L227.1 682.7 L229.1 682.9 L231.1 683.1 L233.1 683.4 L235.1 683.6 L237.1 683.8 L239.1 684.0 L241.1 684.2 L243.1 684.5 L245.1 684.7 L247.1 684.9 L249.1 685.1 L251.1 685.3 L253.1 685.6 L255.1 685.8 L257.1 686.0 L259.1 686.2 L261.1 686.4 L263.1 686.7 L265.1 686.9 L267.1 687.1 L269.1 687.3 L271.1 687.6 L273.1 687.8 L275.1 688.0 L277.1 688.2 L279.1 688.5 L281.1 688.7 L283.1 688.9 L285.1 689.1 L287.1 689.4 L289.1 689.6 L291.1 689.8 L293.1 690.0 L295.1 690.3 L297.1 690.5 L299.1 690.7 L301.1 690.9 L303.1 691.2 L305.1 691.4 L307.1 691.6 L309.1 691.8 L311.1 692.1 L313.1 692.3 L315.1 692.5 L317.1 692.8 L319.1 693.0 L321.1 693.2 L323.1 693.4 L325.1 693.7 L327.1 693.9 L329.1 694.1 L331.1 694.4 L333.1 694.6 L335.1 694.8 L337.1 695.1 L339.1 695.3 L341.1 695.5 L343.1 695.7 L345.1 696.0 L347.1 696.2 L349.1 696.4 L351.1 696.7 L353.1 696.9 L355.1 697.1 L357.1 697.4 L359.1 697.6 L361.1 697.8 L363.1 698.1 L365.1 698.3 L367.1 698.5 L369.1 698.8 L371.1 699.0 L373.1 699.2 L375.1 699.5 L377.1 699.7 L379.1 699.9 L381.1 700.2 L383.1 700.4 L385.1 700.6 L387.1 700.9 L389.1 701.1 L391.1 701.3 L393.1 701.6 L395.1 701.8 L397.0 702.0 L399.0 702.3 L401.0 702.5 L403.0 702.7 L405.0 703.0 L407.0 703.2 L409.0 703.4 L411.0 703.7 L413.0 703.9 L415.0 704.1 L417.0 704.4 L419.0 704.6 L421.0 704.8 L423.0 705.1 L425.0 705.3 L427.0 705.5 L429.0 705.8 L431.0 706.0 L433.0 706.2 L435.0 706.5 L437.0 706.7 L439.0 706.9 L441.0 707.2 L443.0 707.4 L445.0 707.6 L447.0 707.9 L449.0 708.1 L451.0 708.3 L453.0 708.6 L455.0 708.8 L457.0 709.0 L459.0 709.3 L461.0 709.5 L463.0 709.7 L465.0 710.0 L467.0 710.2 L469.0 710.4 L471.0 710.7 L473.0 710.9 L475.0 711.1 L477.0 711.4 L479.0 711.6 L481.0 711.8 L483.0 712.1 L485.0 712.3 L487.0 712.5 L489.0 712.8 L491.0 713.0 L493.0 713.2 L495.0 713.5 L497.0 713.7 L499.0 713.9 L501.0 714.1 L503.0 714.4 L505.0 714.6 L507.0 714.8 L509.0 715.1 L511.0 715.3 L513.0 715.5 L515.0 715.8 L517.0 716.0 L519.0 716.2 L521.0 716.5 L523.0 716.7 L525.0 716.9 L527.0 717.1 L529.0 717.4 L531.0 717.6 L533.0 717.8 L535.0 718.1 L537.0 718.3 L539.0 718.5 L541.0 718.7 L543.0 719.0 L545.0 719.2 L547.0 719.4 L549.0 719.7 L551.0 719.9 L553.0 720.1 L555.0 720.3 L557.0 720.6 L559.0 720.8 L561.0 721.0 L563.0 721.2 L565.0 721.5 L567.0 721.7 L569.0 721.9 L571.0 722.1 L573.0 722.4 L575.0 722.6 L577.0 722.8 L579.0 723.0 L581.0 723.3 L583.0 723.5 L585.0 723.7 L587.0 723.9 L589.0 724.2 L591.0 724.4 L593.0 724.6 L595.0 724.8 L597.0 725.0 L599.0 725.3 L601.0 725.5 L603.0 725.7 L605.0 725.9 L607.0 726.1 L609.0 726.4 L611.0 726.6 L613.0 726.8 L615.0 727.0 L617.0 727.2 L619.0 727.5 L621.0 727.7 L623.0 727.9 L625.0 728.1 L627.0 728.3 L629.0 728.5 L631.0 728.8 L633.0 729.0 L635.0 729.2 L637.0 729.4 L639.0 729.6 L641.0 729.8 L643.0 730.0 L645.0 730.3 L647.0 730.5 L649.0 730.7 L651.0 730.9 L653.0 731.1 L655.0 731.3 L657.0 731.5 L659.0 731.7 L661.0 732.0 L663.0 732.2 L665.0 732.4 L667.0 732.6 L669.0 732.8 L671.0 733.0" fill="none" stroke="#ED7D31" stroke-width="1.8" stroke-dasharray="7.6 5.5" stroke-linejoin="round" />
<path d="M113.0 672.0 L115.0 672.3 L117.0 672.7 L118.9 673.0 L120.9 673.4 L122.9 673.7 L124.9 674.1 L126.9 674.4 L128.8 674.8 L130.8 675.1 L132.8 675.5 L134.8 675.8 L136.8 676.2 L138.7 676.5 L140.7 676.9 L142.7 677.2 L144.7 677.6 L146.7 677.9 L148.6 678.3 L150.6 678.7 L152.6 679.0 L154.6 679.4 L156.6 679.7 L158.5 680.1 L160.5 680.4 L162.5 680.8 L164.5 681.1 L166.5 681.5 L168.4 681.8 L170.4 682.2 L172.4 682.5 L174.4 682.9 L176.4 683.2 L178.3 683.6 L180.3 684.0 L182.3 684.3 L184.3 684.7 L186.3 685.0 L188.2 685.4 L190.2 685.7 L192.2 686.1 L194.2 686.4 L196.2 686.8 L198.1 687.2 L200.1 687.5 L202.1 687.9 L204.1 688.2 L206.0 688.6 L208.0 688.9 L210.0 689.3 L212.0 689.7 L214.0 690.0 L215.9 690.4 L217.9 690.7 L219.9 691.1 L221.9 691.4 L223.9 691.8 L225.8 692.2 L227.8 692.5 L229.8 692.9 L231.8 693.2 L233.7 693.6 L235.7 693.9 L237.7 694.3 L239.7 694.7 L241.7 695.0 L243.6 695.4 L245.6 695.7 L247.6 696.1 L249.6 696.5 L251.6 696.8 L253.5 697.2 L255.5 697.5 L257.5 697.9 L259.5 698.3 L261.4 698.6 L263.4 699.0 L265.4 699.3 L267.4 699.7 L269.4 700.1 L271.3 700.4 L273.3 700.8 L275.3 701.1 L277.3 701.5 L279.2 701.9 L281.2 702.2 L283.2 702.6 L285.2 703.0 L287.2 703.3 L289.1 703.7 L291.1 704.0 L293.1 704.4 L295.1 704.8 L297.0 705.1 L299.0 705.5 L301.0 705.8 L303.0 706.2 L305.0 706.6 L306.9 706.9 L308.9 707.3 L310.9 707.7 L312.9 708.0 L314.8 708.4 L316.8 708.7 L318.8 709.1 L320.8 709.5 L322.8 709.8 L324.7 710.2 L326.7 710.6 L328.7 710.9 L330.7 711.3 L332.6 711.6 L334.6 712.0 L336.6 712.4 L338.6 712.7 L340.6 713.1 L342.5 713.5 L344.5 713.8 L346.5 714.2 L348.5 714.5 L350.4 714.9 L352.4 715.3 L354.4 715.6 L356.4 716.0 L358.4 716.4 L360.3 716.7 L362.3 717.1 L364.3 717.5 L366.3 717.8 L368.2 718.2 L370.2 718.5 L372.2 718.9 L374.2 719.3 L376.2 719.6 L378.1 720.0 L380.1 720.4 L382.1 720.7 L384.1 721.1 L386.0 721.5 L388.0 721.8 L390.0 722.2 L392.0 722.5 L394.0 722.9 L395.9 723.3 L397.9 723.6 L399.9 724.0 L401.9 724.4 L403.8 724.7 L405.8 725.1 L407.8 725.4 L409.8 725.8 L411.8 726.2 L413.7 726.5 L415.7 726.9 L417.7 727.3 L419.7 727.6 L421.6 728.0 L423.6 728.4 L425.6 728.7 L427.6 729.1 L429.6 729.4 L431.5 729.8 L433.5 730.2 L435.5 730.5 L437.5 730.9 L439.4 731.3 L441.4 731.6 L443.4 732.0 L445.4 732.3 L447.4 732.7 L449.3 733.1 L451.3 733.4 L453.3 733.8 L455.3 734.2 L457.2 734.5 L459.2 734.9 L461.2 735.2 L463.2 735.6 L465.2 736.0 L467.1 736.3 L469.1 736.7 L471.1 737.1 L473.1 737.4 L475.0 737.8 L477.0 738.1 L479.0 738.5 L481.0 738.9 L483.0 739.2 L484.9 739.6 L486.9 740.0 L488.9 740.3 L490.9 740.7 L492.8 741.0 L494.8 741.4 L496.8 741.8 L498.8 742.1 L500.8 742.5 L502.7 742.8 L504.7 743.2 L506.7 743.6 L508.7 743.9 L510.7 744.3 L512.6 744.6 L514.6 745.0 L516.6 745.4 L518.6 745.7 L520.5 746.1 L522.5 746.4 L524.5 746.8 L526.5 747.2 L528.5 747.5 L530.4 747.9 L532.4 748.2 L534.4 748.6 L536.4 749.0 L538.4 749.3 L540.3 749.7 L542.3 750.0 L544.3 750.4 L546.3 750.7 L548.2 751.1 L550.2 751.5 L552.2 751.8 L554.2 752.2 L556.2 752.5 L558.1 752.9 L560.1 753.3 L562.1 753.6 L564.1 754.0 L566.1 754.3 L568.0 754.7 L570.0 755.0 L572.0 755.4 L574.0 755.8 L576.0 756.1 L577.9 756.5 L579.9 756.8 L581.9 757.2 L583.9 757.5 L585.8 757.9 L587.8 758.2 L589.8 758.6 L591.8 759.0 L593.8 759.3 L595.7 759.7 L597.7 760.0 L599.7 760.4 L601.7 760.7 L603.7 761.1 L605.6 761.4 L607.6 761.8 L609.6 762.1 L611.6 762.5 L613.6 762.8 L615.5 763.2 L617.5 763.6 L619.5 763.9 L621.5 764.3 L623.5 764.6 L625.4 765.0 L627.4 765.3 L629.4 765.7 L631.4 766.0 L633.4 766.4 L635.3 766.7 L637.3 767.1 L639.3 767.4 L641.3 767.8 L643.3 768.1 L645.2 768.5 L647.2 768.8 L649.2 769.2 L651.2 769.5 L653.2 769.9 L655.2 770.2 L657.1 770.6 L659.1 770.9 L661.1 771.3 L663.1 771.6 L665.1 772.0 L667.0 772.3 L669.0 772.7 L671.0 773.0" fill="none" stroke="#5B9BD5" stroke-width="1.8" stroke-dasharray="7.6 5.5" stroke-linejoin="round" />
</g>
<line x1="94" y1="492.6" x2="113.80000000000001" y2="492.6" stroke="#000" stroke-width="1.6" />
<text x="38.59" y="501.30" font-family='"Liberation Sans", sans-serif' font-size="18.8" text-anchor="start" fill="#111" textLength="45.11" lengthAdjust="spacingAndGlyphs"  stroke="#111" stroke-width="0.35">4000</text>
<line x1="96" y1="535" x2="113.80000000000001" y2="535" stroke="#000" stroke-width="1.6" />
<text x="39.20" y="542.90" font-family='"Liberation Sans", sans-serif' font-size="18.8" text-anchor="start" fill="#111" textLength="44.49" lengthAdjust="spacingAndGlyphs"  stroke="#111" stroke-width="0.35">3500</text>
<line x1="96" y1="590" x2="113.80000000000001" y2="590" stroke="#000" stroke-width="1.6" />
<text x="39.20" y="595.20" font-family='"Liberation Sans", sans-serif' font-size="18.8" text-anchor="start" fill="#111" textLength="44.49" lengthAdjust="spacingAndGlyphs"  stroke="#111" stroke-width="0.35">3000</text>
<line x1="96" y1="641.6" x2="113.80000000000001" y2="641.6" stroke="#000" stroke-width="1.6" />
<text x="36.97" y="648.20" font-family='"Liberation Sans", sans-serif' font-size="18.8" text-anchor="start" fill="#111" textLength="45.74" lengthAdjust="spacingAndGlyphs"  stroke="#111" stroke-width="0.35">2500</text>
<line x1="96" y1="691.6" x2="113.80000000000001" y2="691.6" stroke="#000" stroke-width="1.6" />
<text x="35.97" y="697.70" font-family='"Liberation Sans", sans-serif' font-size="18.8" text-anchor="start" fill="#111" textLength="45.74" lengthAdjust="spacingAndGlyphs"  stroke="#111" stroke-width="0.35">2000</text>
<line x1="96" y1="742" x2="113.80000000000001" y2="742" stroke="#000" stroke-width="1.6" />
<text x="34.44" y="749.60" font-family='"Liberation Sans", sans-serif' font-size="18.8" text-anchor="start" fill="#111" textLength="46.28" lengthAdjust="spacingAndGlyphs"  stroke="#111" stroke-width="0.35">1500</text>
<line x1="96" y1="792" x2="113.80000000000001" y2="792" stroke="#000" stroke-width="1.6" />
<text x="34.23" y="798.80" font-family='"Liberation Sans", sans-serif' font-size="18.8" text-anchor="start" fill="#111" textLength="46.49" lengthAdjust="spacingAndGlyphs"  stroke="#111" stroke-width="0.35">1000</text>
<line x1="88" y1="833.8" x2="113.80000000000001" y2="833.8" stroke="#000" stroke-width="1.6" />
<text x="45.86" y="841.30" font-family='"Liberation Sans", sans-serif' font-size="18.8" text-anchor="start" fill="#111" textLength="34.94" lengthAdjust="spacingAndGlyphs"  stroke="#111" stroke-width="0.35">500</text>
<line x1="113" y1="830.2" x2="113" y2="856" stroke="#000" stroke-width="1.6" />
<text x="98.78" y="871.60" font-family='"Liberation Sans", sans-serif' font-size="18.8" text-anchor="start" fill="#111" textLength="28.33" lengthAdjust="spacingAndGlyphs"  stroke="#111" stroke-width="0.35">0.0</text>
<line x1="159.4" y1="832.9000000000001" x2="159.4" y2="846" stroke="#000" stroke-width="1.6" />
<text x="145.16" y="873.00" font-family='"Liberation Sans", sans-serif' font-size="18.8" text-anchor="start" fill="#111" textLength="29.30" lengthAdjust="spacingAndGlyphs"  stroke="#111" stroke-width="0.35">0.2</text>
<line x1="213.4" y1="832.9000000000001" x2="213.4" y2="847" stroke="#000" stroke-width="1.6" />
<text x="200.18" y="872.40" font-family='"Liberation Sans", sans-serif' font-size="18.8" text-anchor="start" fill="#111" textLength="28.44" lengthAdjust="spacingAndGlyphs"  stroke="#111" stroke-width="0.35">0.4</text>
<line x1="265.2" y1="832.9000000000001" x2="265.2" y2="846" stroke="#000" stroke-width="1.6" />
<text x="251.18" y="873.60" font-family='"Liberation Sans", sans-serif' font-size="18.8" text-anchor="start" fill="#111" textLength="28.65" lengthAdjust="spacingAndGlyphs"  stroke="#111" stroke-width="0.35">0.6</text>
<line x1="314.2" y1="832.9000000000001" x2="314.2" y2="846" stroke="#000" stroke-width="1.6" />
<text x="302.15" y="875.00" font-family='"Liberation Sans", sans-serif' font-size="18.8" text-anchor="start" fill="#111" textLength="29.71" lengthAdjust="spacingAndGlyphs"  stroke="#111" stroke-width="0.35">0.8</text>
<line x1="369.2" y1="832.9000000000001" x2="369.2" y2="846" stroke="#000" stroke-width="1.6" />
<text x="356.42" y="875.00" font-family='"Liberation Sans", sans-serif' font-size="18.8" text-anchor="start" fill="#111" textLength="29.32" lengthAdjust="spacingAndGlyphs"  stroke="#111" stroke-width="0.35">1.0</text>
<line x1="422.4" y1="832.9000000000001" x2="422.4" y2="847" stroke="#000" stroke-width="1.6" />
<text x="409.42" y="876.00" font-family='"Liberation Sans", sans-serif' font-size="18.8" text-anchor="start" fill="#111" textLength="29.23" lengthAdjust="spacingAndGlyphs"  stroke="#111" stroke-width="0.35">1.2</text>
<line x1="471.6" y1="832.9000000000001" x2="471.6" y2="845.6" stroke="#000" stroke-width="1.6" />
<text x="456.46" y="875.60" font-family='"Liberation Sans", sans-serif' font-size="18.8" text-anchor="start" fill="#111" textLength="28.56" lengthAdjust="spacingAndGlyphs"  stroke="#111" stroke-width="0.35">1.4</text>
<line x1="522" y1="832.9000000000001" x2="522" y2="845.6" stroke="#000" stroke-width="1.6" />
<text x="507.05" y="875.60" font-family='"Liberation Sans", sans-serif' font-size="18.8" text-anchor="start" fill="#111" textLength="28.78" lengthAdjust="spacingAndGlyphs"  stroke="#111" stroke-width="0.35">1.6</text>
<line x1="570" y1="832.9000000000001" x2="570" y2="846" stroke="#000" stroke-width="1.6" />
<text x="555.44" y="875.60" font-family='"Liberation Sans", sans-serif' font-size="18.8" text-anchor="start" fill="#111" textLength="29.00" lengthAdjust="spacingAndGlyphs"  stroke="#111" stroke-width="0.35">1.8</text>
<line x1="624.6" y1="832.9000000000001" x2="624.6" y2="846" stroke="#000" stroke-width="1.6" />
<text x="612.97" y="874.40" font-family='"Liberation Sans", sans-serif' font-size="18.8" text-anchor="start" fill="#111" textLength="28.76" lengthAdjust="spacingAndGlyphs"  stroke="#111" stroke-width="0.35">2.0</text>
<line x1="671" y1="832.9000000000001" x2="671" y2="846" stroke="#000" stroke-width="1.6" />
<text x="657.73" y="873.00" font-family='"Liberation Sans", sans-serif' font-size="18.8" text-anchor="start" fill="#111" textLength="29.85" lengthAdjust="spacingAndGlyphs"  stroke="#111" stroke-width="0.35">2.2</text>
<text transform="translate(19.10,0) rotate(-90)" y="0" font-family='"Liberation Sans", sans-serif' font-size="19.7" fill="#111" stroke="#111" stroke-width="0.12"><tspan x="-759.79" textLength="52.94" lengthAdjust="spacingAndGlyphs">Phase</tspan> <tspan x="-700.00" textLength="70.83" lengthAdjust="spacingAndGlyphs">Velocity</tspan> <tspan x="-622.70" textLength="10.00" lengthAdjust="spacingAndGlyphs">c</tspan> <tspan x="-608.30" textLength="49.34" lengthAdjust="spacingAndGlyphs">(m/s)</tspan></text>
<text x="362.38" y="902.40" font-family='"Liberation Serif", serif' font-size="23" font-style="italic" text-anchor="start" fill="#111" textLength="13.18" lengthAdjust="spacingAndGlyphs"  stroke="#111" stroke-width="0.12">h</text>
<text x="378.38" y="905.40" font-family='"Liberation Serif", serif' font-size="27.5" font-style="italic" text-anchor="start" fill="#111" textLength="6.67" lengthAdjust="spacingAndGlyphs"  stroke="#111" stroke-width="0.12">/</text>
<text x="389.14" y="902.40" font-family='"Liberation Serif", serif' font-size="23" font-style="italic" text-anchor="start" fill="#111" textLength="11.15" lengthAdjust="spacingAndGlyphs"  stroke="#111" stroke-width="0.12">λ</text>
<text x="324.08" y="937.00" font-family='"Liberation Serif", serif' font-size="19.5" text-anchor="start" fill="#111" textLength="23.75" lengthAdjust="spacingAndGlyphs"  stroke="#111" stroke-width="0.12">(b)</text>
<text x="372.65" y="758.00" font-family='"Liberation Sans", sans-serif' font-size="19.5" text-anchor="start" fill="#111" textLength="78.97" lengthAdjust="spacingAndGlyphs"  stroke="#111" stroke-width="0.12">Model-II</text>
<line x1="334" y1="751.4" x2="368.6" y2="751.4" stroke="#000" stroke-width="1.4" />
<path d="M329.6 751.4 L337 748 L337 754.8 Z" fill="#000"/>
<line x1="247.7" y1="501" x2="275.5" y2="501" stroke="#000" stroke-width="2.1" />
<text y="504.50" font-family='"Liberation Sans", sans-serif' font-size="11.4" fill="#111" stroke="#111" stroke-width="0.3"><tspan x="284.31" textLength="15.03" lengthAdjust="spacingAndGlyphs">SH</tspan> <tspan x="302.64" textLength="34.40" lengthAdjust="spacingAndGlyphs">waves</tspan> <tspan x="340.06" textLength="10.69" lengthAdjust="spacingAndGlyphs">in</tspan> <tspan x="353.91" textLength="5.68" lengthAdjust="spacingAndGlyphs">a</tspan> <tspan x="363.69" textLength="41.01" lengthAdjust="spacingAndGlyphs">layered</tspan> <tspan x="408.15" textLength="13.58" lengthAdjust="spacingAndGlyphs">PE</tspan> <tspan x="425.14" textLength="52.21" lengthAdjust="spacingAndGlyphs">substrate</tspan> <tspan x="480.52" textLength="43.93" lengthAdjust="spacingAndGlyphs">without</tspan> <tspan x="527.68" textLength="12.98" lengthAdjust="spacingAndGlyphs">SE</tspan></text>
<line x1="248.3" y1="513.8" x2="276" y2="513.8" stroke="#4472C4" stroke-width="1.9" />
<text y="517.50" font-family='"Liberation Sans", sans-serif' font-size="11.4" fill="#111" stroke="#111" stroke-width="0.3"><tspan x="284.31" textLength="15.05" lengthAdjust="spacingAndGlyphs">SH</tspan> <tspan x="302.66" textLength="34.45" lengthAdjust="spacingAndGlyphs">waves</tspan> <tspan x="340.13" textLength="10.71" lengthAdjust="spacingAndGlyphs">in</tspan> <tspan x="354.01" textLength="5.69" lengthAdjust="spacingAndGlyphs">a</tspan> <tspan x="363.79" textLength="41.06" lengthAdjust="spacingAndGlyphs">layered</tspan> <tspan x="408.32" textLength="13.60" lengthAdjust="spacingAndGlyphs">PE</tspan> <tspan x="425.34" textLength="52.28" lengthAdjust="spacingAndGlyphs">substrate</tspan> <tspan x="480.79" textLength="35.57" lengthAdjust="spacingAndGlyphs">where</tspan> <tspan x="519.56" textLength="32.22" lengthAdjust="spacingAndGlyphs">width</tspan> <tspan x="554.84" textLength="8.64" lengthAdjust="spacingAndGlyphs">is</tspan> <tspan x="566.44" textLength="24.45" lengthAdjust="spacingAndGlyphs">0.75</tspan> <tspan x="594.42" textLength="18.19" lengthAdjust="spacingAndGlyphs">nm</tspan></text>
<line x1="247.7" y1="527.8" x2="275.3" y2="527.8" stroke="#ED7D31" stroke-width="1.9" />
<text y="531.60" font-family='"Liberation Sans", sans-serif' font-size="11.4" fill="#111" stroke="#111" stroke-width="0.3"><tspan x="284.51" textLength="15.04" lengthAdjust="spacingAndGlyphs">SH</tspan> <tspan x="302.85" textLength="34.43" lengthAdjust="spacingAndGlyphs">waves</tspan> <tspan x="340.30" textLength="10.70" lengthAdjust="spacingAndGlyphs">in</tspan> <tspan x="354.17" textLength="5.69" lengthAdjust="spacingAndGlyphs">a</tspan> <tspan x="363.95" textLength="41.04" lengthAdjust="spacingAndGlyphs">layered</tspan> <tspan x="408.45" textLength="13.59" lengthAdjust="spacingAndGlyphs">PE</tspan> <tspan x="425.45" textLength="52.25" lengthAdjust="spacingAndGlyphs">substrate</tspan> <tspan x="480.87" textLength="35.55" lengthAdjust="spacingAndGlyphs">where</tspan> <tspan x="519.61" textLength="32.20" lengthAdjust="spacingAndGlyphs">width</tspan> <tspan x="554.87" textLength="8.63" lengthAdjust="spacingAndGlyphs">is</tspan> <tspan x="566.87" textLength="24.02" lengthAdjust="spacingAndGlyphs">1.25</tspan> <tspan x="594.43" textLength="18.18" lengthAdjust="spacingAndGlyphs">nm</tspan></text>
<line x1="248.3" y1="543.4" x2="276" y2="543.4" stroke="#5B9BD5" stroke-width="1.9" />
<text y="546.10" font-family='"Liberation Sans", sans-serif' font-size="11.4" fill="#111" stroke="#111" stroke-width="0.3"><tspan x="284.01" textLength="15.04" lengthAdjust="spacingAndGlyphs">SH</tspan> <tspan x="302.35" textLength="34.43" lengthAdjust="spacingAndGlyphs">waves</tspan> <tspan x="339.80" textLength="10.70" lengthAdjust="spacingAndGlyphs">in</tspan> <tspan x="353.67" textLength="5.69" lengthAdjust="spacingAndGlyphs">a</tspan> <tspan x="363.45" textLength="41.04" lengthAdjust="spacingAndGlyphs">layered</tspan> <tspan x="407.95" textLength="13.59" lengthAdjust="spacingAndGlyphs">PE</tspan> <tspan x="424.95" textLength="52.25" lengthAdjust="spacingAndGlyphs">substrate</tspan> <tspan x="480.37" textLength="35.55" lengthAdjust="spacingAndGlyphs">where</tspan> <tspan x="519.11" textLength="32.20" lengthAdjust="spacingAndGlyphs">width</tspan> <tspan x="554.37" textLength="8.63" lengthAdjust="spacingAndGlyphs">is</tspan> <tspan x="566.37" textLength="24.02" lengthAdjust="spacingAndGlyphs">1.75</tspan> <tspan x="593.93" textLength="18.18" lengthAdjust="spacingAndGlyphs">nm</tspan></text>
<line x1="248.1" y1="559.2" x2="276.6" y2="559.2" stroke="#000" stroke-width="2.0" stroke-dasharray="8 5"/>
<text y="561.00" font-family='"Liberation Sans", sans-serif' font-size="11.4" fill="#111" stroke="#111" stroke-width="0.3"><tspan x="284.17" textLength="20.61" lengthAdjust="spacingAndGlyphs">B-G</tspan> <tspan x="307.91" textLength="34.42" lengthAdjust="spacingAndGlyphs">waves</tspan> <tspan x="345.35" textLength="10.70" lengthAdjust="spacingAndGlyphs">in</tspan> <tspan x="359.21" textLength="5.68" lengthAdjust="spacingAndGlyphs">a</tspan> <tspan x="368.99" textLength="41.03" lengthAdjust="spacingAndGlyphs">layered</tspan> <tspan x="413.47" textLength="13.59" lengthAdjust="spacingAndGlyphs">PE</tspan> <tspan x="430.47" textLength="52.24" lengthAdjust="spacingAndGlyphs">substrate</tspan> <tspan x="485.87" textLength="43.95" lengthAdjust="spacingAndGlyphs">without</tspan> <tspan x="533.05" textLength="12.98" lengthAdjust="spacingAndGlyphs">SE</tspan></text>
<line x1="248.1" y1="574.1" x2="276.6" y2="574.1" stroke="#4472C4" stroke-width="1.8" stroke-dasharray="8 5"/>
<text y="575.80" font-family='"Liberation Sans", sans-serif' font-size="11.4" fill="#111" stroke="#111" stroke-width="0.3"><tspan x="283.57" textLength="20.60" lengthAdjust="spacingAndGlyphs">B-G</tspan> <tspan x="307.30" textLength="34.41" lengthAdjust="spacingAndGlyphs">waves</tspan> <tspan x="344.73" textLength="10.69" lengthAdjust="spacingAndGlyphs">in</tspan> <tspan x="358.58" textLength="5.68" lengthAdjust="spacingAndGlyphs">a</tspan> <tspan x="368.36" textLength="41.01" lengthAdjust="spacingAndGlyphs">layered</tspan> <tspan x="412.83" textLength="13.58" lengthAdjust="spacingAndGlyphs">PE</tspan> <tspan x="429.82" textLength="52.22" lengthAdjust="spacingAndGlyphs">substrate</tspan> <tspan x="485.20" textLength="35.53" lengthAdjust="spacingAndGlyphs">where</tspan> <tspan x="523.92" textLength="32.18" lengthAdjust="spacingAndGlyphs">width</tspan> <tspan x="559.16" textLength="8.63" lengthAdjust="spacingAndGlyphs">is</tspan> <tspan x="570.74" textLength="24.42" lengthAdjust="spacingAndGlyphs">0.75</tspan> <tspan x="598.69" textLength="18.16" lengthAdjust="spacingAndGlyphs">nm</tspan></text>
<line x1="248.1" y1="590.9" x2="276.6" y2="590.9" stroke="#ED7D31" stroke-width="1.8" stroke-dasharray="8 5"/>
<text y="592.60" font-family='"Liberation Sans", sans-serif' font-size="11.4" fill="#111" stroke="#111" stroke-width="0.3"><tspan x="282.67" textLength="20.62" lengthAdjust="spacingAndGlyphs">B-G</tspan> <tspan x="306.43" textLength="34.45" lengthAdjust="spacingAndGlyphs">waves</tspan> <tspan x="343.90" textLength="10.71" lengthAdjust="spacingAndGlyphs">in</tspan> <tspan x="357.77" textLength="5.69" lengthAdjust="spacingAndGlyphs">a</tspan> <tspan x="367.56" textLength="41.06" lengthAdjust="spacingAndGlyphs">layered</tspan> <tspan x="412.09" textLength="13.60" lengthAdjust="spacingAndGlyphs">PE</tspan> <tspan x="429.10" textLength="52.28" lengthAdjust="spacingAndGlyphs">substrate</tspan> <tspan x="484.54" textLength="35.57" lengthAdjust="spacingAndGlyphs">where</tspan> <tspan x="523.31" textLength="32.22" lengthAdjust="spacingAndGlyphs">width</tspan> <tspan x="558.59" textLength="8.64" lengthAdjust="spacingAndGlyphs">is</tspan> <tspan x="570.59" textLength="24.03" lengthAdjust="spacingAndGlyphs">1.25</tspan> <tspan x="598.17" textLength="18.19" lengthAdjust="spacingAndGlyphs">nm</tspan></text>
<line x1="249.2" y1="606.8" x2="277.7" y2="606.8" stroke="#5B9BD5" stroke-width="1.8" stroke-dasharray="8 5"/>
<text y="609.20" font-family='"Liberation Sans", sans-serif' font-size="11.4" fill="#111" stroke="#111" stroke-width="0.3"><tspan x="283.87" textLength="20.59" lengthAdjust="spacingAndGlyphs">B-G</tspan> <tspan x="307.60" textLength="34.40" lengthAdjust="spacingAndGlyphs">waves</tspan> <tspan x="345.01" textLength="10.69" lengthAdjust="spacingAndGlyphs">in</tspan> <tspan x="358.86" textLength="5.68" lengthAdjust="spacingAndGlyphs">a</tspan> <tspan x="368.63" textLength="41.00" lengthAdjust="spacingAndGlyphs">layered</tspan> <tspan x="413.09" textLength="13.58" lengthAdjust="spacingAndGlyphs">PE</tspan> <tspan x="430.08" textLength="52.20" lengthAdjust="spacingAndGlyphs">substrate</tspan> <tspan x="485.44" textLength="35.52" lengthAdjust="spacingAndGlyphs">where</tspan> <tspan x="524.15" textLength="32.17" lengthAdjust="spacingAndGlyphs">width</tspan> <tspan x="559.38" textLength="8.62" lengthAdjust="spacingAndGlyphs">is</tspan> <tspan x="571.36" textLength="23.99" lengthAdjust="spacingAndGlyphs">1.75</tspan> <tspan x="598.90" textLength="18.16" lengthAdjust="spacingAndGlyphs">nm</tspan></text>
</svg></body></html>
